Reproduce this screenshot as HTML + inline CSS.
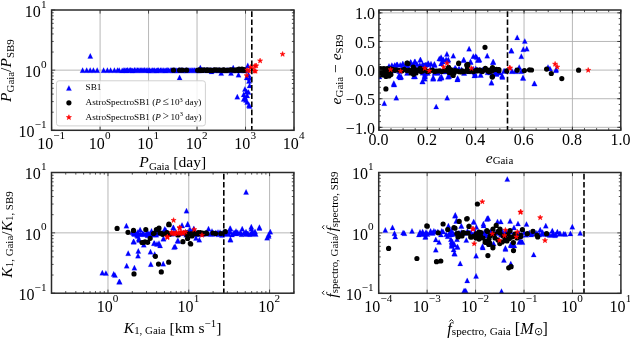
<!DOCTYPE html>
<html><head><meta charset="utf-8"><style>
html,body{margin:0;padding:0;background:#fff;overflow:hidden;}
svg{display:block;}
text{font-family:"Liberation Serif",serif;fill:#000;}
svg{will-change:transform;}
</style></head><body>
<svg width="630" height="341" viewBox="0 0 630 341">
<clipPath id="c1"><rect x="51.6" y="10.0" width="242.40" height="120.30"/></clipPath>
<path d="M100.08 10.00V130.30M148.56 10.00V130.30M197.04 10.00V130.30M245.52 10.00V130.30M51.60 70.15H294.00" stroke="#b0b0b0" stroke-width="0.9" fill="none"/>
<g clip-path="url(#c1)">
<path d="M82.60 67.55L80.00 72.75L85.20 72.75ZM86.70 67.55L84.10 72.75L89.30 72.75ZM90.20 67.55L87.60 72.75L92.80 72.75ZM93.40 67.55L90.80 72.75L96.00 72.75ZM97.20 67.55L94.60 72.75L99.80 72.75ZM103.60 67.55L101.00 72.75L106.20 72.75ZM107.40 67.55L104.80 72.75L110.00 72.75ZM110.60 67.55L108.00 72.75L113.20 72.75ZM114.40 67.55L111.80 72.75L117.00 72.75ZM117.50 67.55L114.90 72.75L120.10 72.75ZM119.20 67.55L116.60 72.75L121.80 72.75ZM122.18 67.72L119.58 72.92L124.78 72.92ZM123.86 67.43L121.26 72.63L126.46 72.63ZM125.00 67.52L122.40 72.72L127.60 72.72ZM126.39 67.69L123.79 72.89L128.99 72.89ZM127.36 67.31L124.76 72.51L129.96 72.51ZM129.10 67.52L126.50 72.72L131.70 72.72ZM130.36 67.30L127.76 72.50L132.96 72.50ZM131.47 67.66L128.87 72.86L134.07 72.86ZM132.64 67.77L130.04 72.97L135.24 72.97ZM134.34 67.32L131.74 72.52L136.94 72.52ZM135.12 67.57L132.52 72.77L137.72 72.77ZM136.96 67.49L134.36 72.69L139.56 72.69ZM137.83 67.51L135.23 72.71L140.43 72.71ZM139.02 67.41L136.42 72.61L141.62 72.61ZM140.56 67.55L137.96 72.75L143.16 72.75ZM141.74 67.42L139.14 72.62L144.34 72.62ZM143.03 67.53L140.43 72.73L145.63 72.73ZM144.37 67.31L141.77 72.51L146.97 72.51ZM146.00 67.58L143.40 72.78L148.60 72.78ZM147.19 67.39L144.59 72.59L149.79 72.59ZM148.70 67.73L146.10 72.93L151.30 72.93ZM149.47 67.47L146.87 72.67L152.07 72.67ZM151.13 67.66L148.53 72.86L153.73 72.86ZM152.56 67.51L149.96 72.71L155.16 72.71ZM153.80 67.64L151.20 72.84L156.40 72.84ZM154.78 67.59L152.18 72.79L157.38 72.79ZM156.43 67.72L153.83 72.92L159.03 72.92ZM157.50 67.59L154.90 72.79L160.10 72.79ZM158.52 67.42L155.92 72.62L161.12 72.62ZM160.28 67.51L157.68 72.71L162.88 72.71ZM161.20 67.57L158.60 72.77L163.80 72.77ZM162.82 67.64L160.22 72.84L165.42 72.84ZM163.92 67.52L161.32 72.72L166.52 72.72ZM165.31 67.69L162.71 72.89L167.91 72.89ZM166.61 67.50L164.01 72.70L169.21 72.70ZM167.89 67.31L165.29 72.51L170.49 72.51ZM168.93 67.65L166.33 72.85L171.53 72.85ZM170.79 67.60L168.19 72.80L173.39 72.80ZM171.74 67.39L169.14 72.59L174.34 72.59ZM173.10 67.79L170.50 72.99L175.70 72.99ZM174.56 67.57L171.96 72.77L177.16 72.77ZM175.92 67.42L173.32 72.62L178.52 72.62ZM177.01 67.78L174.41 72.98L179.61 72.98ZM178.35 67.53L175.75 72.73L180.95 72.73ZM179.46 67.57L176.86 72.77L182.06 72.77ZM181.17 67.30L178.57 72.50L183.77 72.50ZM182.37 67.71L179.77 72.91L184.97 72.91ZM183.73 67.67L181.13 72.87L186.33 72.87ZM184.99 67.56L182.39 72.76L187.59 72.76ZM186.14 67.51L183.54 72.71L188.74 72.71ZM187.13 67.74L184.53 72.94L189.73 72.94ZM188.74 67.40L186.14 72.60L191.34 72.60ZM190.00 67.54L187.40 72.74L192.60 72.74ZM191.21 67.47L188.61 72.67L193.81 72.67ZM192.62 67.61L190.02 72.81L195.22 72.81ZM193.97 67.53L191.37 72.73L196.57 72.73ZM194.92 67.41L192.32 72.61L197.52 72.61ZM196.31 67.59L193.71 72.79L198.91 72.79ZM198.02 67.70L195.42 72.90L200.62 72.90ZM199.28 67.71L196.68 72.91L201.88 72.91ZM200.25 67.72L197.65 72.92L202.85 72.92ZM201.80 67.34L199.20 72.54L204.40 72.54ZM202.71 67.31L200.11 72.51L205.31 72.51ZM204.45 67.42L201.85 72.62L207.05 72.62ZM205.37 67.61L202.77 72.81L207.97 72.81ZM206.81 67.33L204.21 72.53L209.41 72.53ZM208.00 67.56L205.40 72.76L210.60 72.76ZM209.30 67.44L206.70 72.64L211.90 72.64ZM210.93 67.53L208.33 72.73L213.53 72.73ZM211.99 67.54L209.39 72.74L214.59 72.74ZM213.11 67.49L210.51 72.69L215.71 72.69ZM214.65 67.39L212.05 72.59L217.25 72.59ZM215.77 67.75L213.17 72.95L218.37 72.95ZM217.31 67.40L214.71 72.60L219.91 72.60ZM218.66 67.71L216.06 72.91L221.26 72.91ZM219.61 67.31L217.01 72.51L222.21 72.51ZM220.99 67.66L218.39 72.86L223.59 72.86ZM222.30 67.65L219.70 72.85L224.90 72.85ZM223.91 67.57L221.31 72.77L226.51 72.77ZM224.93 67.79L222.33 72.99L227.53 72.99ZM226.58 67.56L223.98 72.76L229.18 72.76ZM227.53 67.62L224.93 72.82L230.13 72.82ZM228.94 67.59L226.34 72.79L231.54 72.79ZM230.19 67.62L227.59 72.82L232.79 72.82ZM231.34 67.45L228.74 72.65L233.94 72.65ZM233.18 67.74L230.58 72.94L235.78 72.94ZM234.08 67.73L231.48 72.93L236.68 72.93ZM235.39 67.77L232.79 72.97L237.99 72.97ZM236.95 67.51L234.35 72.71L239.55 72.71ZM237.95 67.30L235.35 72.50L240.55 72.50ZM239.63 67.32L237.03 72.52L242.23 72.52ZM240.89 67.78L238.29 72.98L243.49 72.98ZM242.04 67.39L239.44 72.59L244.64 72.59ZM243.52 67.79L240.92 72.99L246.12 72.99ZM244.72 67.55L242.12 72.75L247.32 72.75ZM245.83 67.47L243.23 72.67L248.43 72.67ZM90.30 53.30L87.70 58.50L92.90 58.50ZM179.60 74.80L177.00 80.00L182.20 80.00ZM200.30 64.90L197.70 70.10L202.90 70.10ZM211.50 68.70L208.90 73.90L214.10 73.90ZM221.20 70.40L218.60 75.60L223.80 75.60ZM231.00 70.40L228.40 75.60L233.60 75.60ZM233.20 65.00L230.60 70.20L235.80 70.20ZM238.50 72.10L235.90 77.30L241.10 77.30ZM247.80 62.70L245.20 67.90L250.40 67.90ZM246.70 74.70L244.10 79.90L249.30 79.90ZM249.00 78.30L246.40 83.50L251.60 83.50ZM249.60 82.90L247.00 88.10L252.20 88.10ZM244.90 86.40L242.30 91.60L247.50 91.60ZM246.70 88.80L244.10 94.00L249.30 94.00ZM243.70 91.70L241.10 96.90L246.30 96.90ZM237.30 94.10L234.70 99.30L239.90 99.30ZM247.20 92.90L244.60 98.10L249.80 98.10ZM243.70 96.40L241.10 101.60L246.30 101.60ZM247.20 99.40L244.60 104.60L249.80 104.60ZM249.00 102.30L246.40 107.50L251.60 107.50ZM249.60 103.40L247.00 108.60L252.20 108.60ZM248.50 71.90L245.90 77.10L251.10 77.10ZM249.60 75.20L247.00 80.40L252.20 80.40ZM245.00 94.40L242.40 99.60L247.60 99.60ZM246.00 97.40L243.40 102.60L248.60 102.60ZM248.50 89.40L245.90 94.60L251.10 94.60Z" fill="#0000ff" stroke="#0000ff" stroke-width="0.2" stroke-linejoin="miter"/>
<path d="M170.90 70.15a2.6 2.6 0 1 0 5.20 0a2.6 2.6 0 1 0 -5.20 0ZM177.00 70.15a2.6 2.6 0 1 0 5.20 0a2.6 2.6 0 1 0 -5.20 0ZM179.70 70.15a2.6 2.6 0 1 0 5.20 0a2.6 2.6 0 1 0 -5.20 0ZM184.00 70.15a2.6 2.6 0 1 0 5.20 0a2.6 2.6 0 1 0 -5.20 0ZM195.02 70.29a2.6 2.6 0 1 0 5.20 0a2.6 2.6 0 1 0 -5.20 0ZM196.36 69.91a2.6 2.6 0 1 0 5.20 0a2.6 2.6 0 1 0 -5.20 0ZM197.36 70.28a2.6 2.6 0 1 0 5.20 0a2.6 2.6 0 1 0 -5.20 0ZM198.68 70.15a2.6 2.6 0 1 0 5.20 0a2.6 2.6 0 1 0 -5.20 0ZM199.90 70.45a2.6 2.6 0 1 0 5.20 0a2.6 2.6 0 1 0 -5.20 0ZM201.44 69.76a2.6 2.6 0 1 0 5.20 0a2.6 2.6 0 1 0 -5.20 0ZM202.22 70.01a2.6 2.6 0 1 0 5.20 0a2.6 2.6 0 1 0 -5.20 0ZM203.89 70.38a2.6 2.6 0 1 0 5.20 0a2.6 2.6 0 1 0 -5.20 0ZM204.70 69.92a2.6 2.6 0 1 0 5.20 0a2.6 2.6 0 1 0 -5.20 0ZM206.10 70.42a2.6 2.6 0 1 0 5.20 0a2.6 2.6 0 1 0 -5.20 0ZM207.46 70.03a2.6 2.6 0 1 0 5.20 0a2.6 2.6 0 1 0 -5.20 0ZM208.63 70.30a2.6 2.6 0 1 0 5.20 0a2.6 2.6 0 1 0 -5.20 0ZM209.59 70.54a2.6 2.6 0 1 0 5.20 0a2.6 2.6 0 1 0 -5.20 0ZM210.64 70.33a2.6 2.6 0 1 0 5.20 0a2.6 2.6 0 1 0 -5.20 0ZM211.75 69.89a2.6 2.6 0 1 0 5.20 0a2.6 2.6 0 1 0 -5.20 0ZM213.45 69.92a2.6 2.6 0 1 0 5.20 0a2.6 2.6 0 1 0 -5.20 0ZM214.56 70.23a2.6 2.6 0 1 0 5.20 0a2.6 2.6 0 1 0 -5.20 0ZM215.80 70.04a2.6 2.6 0 1 0 5.20 0a2.6 2.6 0 1 0 -5.20 0ZM216.70 69.98a2.6 2.6 0 1 0 5.20 0a2.6 2.6 0 1 0 -5.20 0ZM218.22 70.23a2.6 2.6 0 1 0 5.20 0a2.6 2.6 0 1 0 -5.20 0ZM219.47 70.46a2.6 2.6 0 1 0 5.20 0a2.6 2.6 0 1 0 -5.20 0ZM220.18 70.19a2.6 2.6 0 1 0 5.20 0a2.6 2.6 0 1 0 -5.20 0ZM221.36 69.78a2.6 2.6 0 1 0 5.20 0a2.6 2.6 0 1 0 -5.20 0ZM222.54 70.44a2.6 2.6 0 1 0 5.20 0a2.6 2.6 0 1 0 -5.20 0ZM224.17 70.41a2.6 2.6 0 1 0 5.20 0a2.6 2.6 0 1 0 -5.20 0ZM225.10 70.24a2.6 2.6 0 1 0 5.20 0a2.6 2.6 0 1 0 -5.20 0ZM226.57 70.05a2.6 2.6 0 1 0 5.20 0a2.6 2.6 0 1 0 -5.20 0ZM227.64 69.93a2.6 2.6 0 1 0 5.20 0a2.6 2.6 0 1 0 -5.20 0ZM228.55 69.96a2.6 2.6 0 1 0 5.20 0a2.6 2.6 0 1 0 -5.20 0ZM230.23 70.20a2.6 2.6 0 1 0 5.20 0a2.6 2.6 0 1 0 -5.20 0ZM231.46 70.12a2.6 2.6 0 1 0 5.20 0a2.6 2.6 0 1 0 -5.20 0ZM232.27 70.38a2.6 2.6 0 1 0 5.20 0a2.6 2.6 0 1 0 -5.20 0ZM233.80 69.76a2.6 2.6 0 1 0 5.20 0a2.6 2.6 0 1 0 -5.20 0ZM234.90 69.82a2.6 2.6 0 1 0 5.20 0a2.6 2.6 0 1 0 -5.20 0ZM235.77 70.46a2.6 2.6 0 1 0 5.20 0a2.6 2.6 0 1 0 -5.20 0ZM236.92 69.94a2.6 2.6 0 1 0 5.20 0a2.6 2.6 0 1 0 -5.20 0ZM238.69 70.09a2.6 2.6 0 1 0 5.20 0a2.6 2.6 0 1 0 -5.20 0ZM239.37 69.88a2.6 2.6 0 1 0 5.20 0a2.6 2.6 0 1 0 -5.20 0ZM240.64 70.35a2.6 2.6 0 1 0 5.20 0a2.6 2.6 0 1 0 -5.20 0ZM241.76 70.48a2.6 2.6 0 1 0 5.20 0a2.6 2.6 0 1 0 -5.20 0ZM236.40 69.00a2.6 2.6 0 1 0 5.20 0a2.6 2.6 0 1 0 -5.20 0ZM239.40 69.20a2.6 2.6 0 1 0 5.20 0a2.6 2.6 0 1 0 -5.20 0ZM241.40 69.50a2.6 2.6 0 1 0 5.20 0a2.6 2.6 0 1 0 -5.20 0Z" fill="#000"/>
<path d="M247.30 67.35L247.89 69.18L249.82 69.18L248.26 70.31L248.86 72.14L247.30 71.01L245.74 72.14L246.34 70.31L244.78 69.18L246.71 69.18ZM250.90 64.35L251.49 66.18L253.42 66.18L251.86 67.31L252.46 69.14L250.90 68.01L249.34 69.14L249.94 67.31L248.38 66.18L250.31 66.18ZM254.40 68.35L254.99 70.18L256.92 70.18L255.36 71.31L255.96 73.14L254.40 72.01L252.84 73.14L253.44 71.31L251.88 70.18L253.81 70.18ZM255.50 68.55L256.09 70.38L258.02 70.38L256.46 71.51L257.06 73.34L255.50 72.21L253.94 73.34L254.54 71.51L252.98 70.38L254.91 70.38ZM256.20 63.05L256.79 64.88L258.72 64.88L257.16 66.01L257.76 67.84L256.20 66.71L254.64 67.84L255.24 66.01L253.68 64.88L255.61 64.88ZM260.10 58.15L260.69 59.98L262.62 59.98L261.06 61.11L261.66 62.94L260.10 61.81L258.54 62.94L259.14 61.11L257.58 59.98L259.51 59.98ZM282.60 51.55L283.19 53.38L285.12 53.38L283.56 54.51L284.16 56.34L282.60 55.21L281.04 56.34L281.64 54.51L280.08 53.38L282.01 53.38ZM246.70 72.95L247.29 74.78L249.22 74.78L247.66 75.91L248.26 77.74L246.70 76.61L245.14 77.74L245.74 75.91L244.18 74.78L246.11 74.78ZM255.00 63.25L255.59 65.08L257.52 65.08L255.96 66.21L256.56 68.04L255.00 66.91L253.44 68.04L254.04 66.21L252.48 65.08L254.41 65.08ZM249.00 68.35L249.59 70.18L251.52 70.18L249.96 71.31L250.56 73.14L249.00 72.01L247.44 73.14L248.04 71.31L246.48 70.18L248.41 70.18ZM252.00 66.35L252.59 68.18L254.52 68.18L252.96 69.31L253.56 71.14L252.00 70.01L250.44 71.14L251.04 69.31L249.48 68.18L251.41 68.18Z" fill="#ff0000" stroke="#ff0000" stroke-width="0.6" stroke-linejoin="miter"/>
</g>
<path d="M251.80 10.00V130.30" stroke="#000" stroke-width="1.6" stroke-dasharray="5.7 2.5" stroke-dashoffset="7.0" fill="none"/>
<path d="M51.60 130.30v-3.6M51.60 10.00v3.6M100.08 130.30v-3.6M100.08 10.00v3.6M148.56 130.30v-3.6M148.56 10.00v3.6M197.04 130.30v-3.6M197.04 10.00v3.6M245.52 130.30v-3.6M245.52 10.00v3.6M294.00 130.30v-3.6M294.00 10.00v3.6M51.60 130.30h3.6M294.00 130.30h-3.6M51.60 70.15h3.6M294.00 70.15h-3.6M51.60 10.00h3.6M294.00 10.00h-3.6M51.60 112.19h2.1M294.00 112.19h-2.1M51.60 101.60h2.1M294.00 101.60h-2.1M51.60 94.09h2.1M294.00 94.09h-2.1M51.60 88.26h2.1M294.00 88.26h-2.1M51.60 83.49h2.1M294.00 83.49h-2.1M51.60 79.47h2.1M294.00 79.47h-2.1M51.60 75.98h2.1M294.00 75.98h-2.1M51.60 72.90h2.1M294.00 72.90h-2.1M51.60 52.04h2.1M294.00 52.04h-2.1M51.60 41.45h2.1M294.00 41.45h-2.1M51.60 33.94h2.1M294.00 33.94h-2.1M51.60 28.11h2.1M294.00 28.11h-2.1M51.60 23.34h2.1M294.00 23.34h-2.1M51.60 19.32h2.1M294.00 19.32h-2.1M51.60 15.83h2.1M294.00 15.83h-2.1M51.60 12.75h2.1M294.00 12.75h-2.1" stroke="#222" stroke-width="0.8" fill="none"/>
<rect x="51.60" y="10.00" width="242.40" height="120.30" stroke="#2a2a2a" stroke-width="1.5" fill="none"/>
<rect x="56.5" y="80.8" width="148.9" height="45.1" rx="2.5" fill="#fff" fill-opacity="0.8" stroke="#cccccc" stroke-width="0.9"/>
<path d="M68.90 85.40L66.30 90.60L71.50 90.60Z" fill="#0000ff" stroke="#0000ff" stroke-width="0.2" stroke-linejoin="miter"/>
<path d="M66.30 102.80a2.6 2.6 0 1 0 5.20 0a2.6 2.6 0 1 0 -5.20 0Z" fill="#000"/>
<path d="M68.90 114.75L69.49 116.58L71.42 116.58L69.86 117.71L70.46 119.54L68.90 118.41L67.34 119.54L67.94 117.71L66.38 116.58L68.31 116.58Z" fill="#ff0000" stroke="#ff0000" stroke-width="0.6" stroke-linejoin="miter"/>
<text x="85.6" y="90.4" font-size="9.2">SB1</text>
<text x="85.6" y="105.1" font-size="9.2">AstroSpectroSB1 (<tspan font-style="italic">P</tspan><tspan font-size="11.5" dx="1.6">&#8804;</tspan><tspan dx="1.5">10</tspan><tspan font-size="6.44" dy="-3.6">3</tspan><tspan dy="3.6"> day)</tspan></text>
<text x="85.6" y="119.8" font-size="9.2">AstroSpectroSB1 (<tspan font-style="italic">P</tspan><tspan font-size="11.5" dx="1.6">&gt;</tspan><tspan dx="1.5">10</tspan><tspan font-size="6.44" dy="-3.6">3</tspan><tspan dy="3.6"> day)</tspan></text>
<text x="37.17" y="148.60" font-size="16.0">10</text><text x="53.32" y="139.00" font-size="11.2">&#8722;1</text>
<text x="88.81" y="148.60" font-size="16.0">10</text><text x="104.96" y="139.00" font-size="11.2">0</text>
<text x="137.28" y="148.60" font-size="16.0">10</text><text x="153.44" y="139.00" font-size="11.2">1</text>
<text x="185.76" y="148.60" font-size="16.0">10</text><text x="201.91" y="139.00" font-size="11.2">2</text>
<text x="234.25" y="148.60" font-size="16.0">10</text><text x="250.40" y="139.00" font-size="11.2">3</text>
<text x="282.73" y="148.60" font-size="16.0">10</text><text x="298.88" y="139.00" font-size="11.2">4</text>
<text x="24.85" y="16.90" font-size="16.0">10</text><text x="41.00" y="7.50" font-size="11.2">1</text>
<text x="24.85" y="77.05" font-size="16.0">10</text><text x="41.00" y="67.65" font-size="11.2">0</text>
<text x="18.53" y="137.20" font-size="16.0">10</text><text x="34.68" y="127.80" font-size="11.2">&#8722;1</text>
<text x="172.8" y="167.2" font-size="15.6" text-anchor="middle"><tspan font-style="italic">P</tspan><tspan font-size="10.9" dy="2.3">Gaia</tspan><tspan dy="-2.3"> [day]</tspan></text>
<text x="11.5" y="70.6" font-size="15.6" text-anchor="middle" transform="rotate(-90 11.5 70.6)"><tspan font-style="italic">P</tspan><tspan font-size="10.9" dy="2.3">Gaia</tspan><tspan dy="-2.3">/</tspan><tspan font-style="italic">P</tspan><tspan font-size="10.9" dy="2.3">SB9</tspan></text>
<clipPath id="c2"><rect x="378.9" y="10.0" width="241.90" height="120.20"/></clipPath>
<path d="M427.28 10.00V130.20M475.66 10.00V130.20M524.04 10.00V130.20M572.42 10.00V130.20M378.90 127.34H620.80M378.90 98.72H620.80M378.90 70.10H620.80M378.90 41.48H620.80M378.90 12.86H620.80" stroke="#b0b0b0" stroke-width="0.9" fill="none"/>
<g clip-path="url(#c2)">
<path d="M381.00 67.29L378.40 72.49L383.60 72.49ZM383.60 70.25L381.00 75.45L386.20 75.45ZM386.20 69.95L383.60 75.15L388.80 75.15ZM388.80 66.87L386.20 72.07L391.40 72.07ZM391.40 66.67L388.80 71.87L394.00 71.87ZM394.00 67.79L391.40 72.99L396.60 72.99ZM396.60 65.90L394.00 71.10L399.20 71.10ZM399.20 68.66L396.60 73.86L401.80 73.86ZM401.80 65.60L399.20 70.80L404.40 70.80ZM404.40 65.45L401.80 70.65L407.00 70.65ZM407.00 70.31L404.40 75.51L409.60 75.51ZM409.60 66.88L407.00 72.08L412.20 72.08ZM412.20 68.38L409.60 73.58L414.80 73.58ZM414.80 67.65L412.20 72.85L417.40 72.85ZM417.40 66.97L414.80 72.17L420.00 72.17ZM420.00 65.71L417.40 70.91L422.60 70.91ZM422.60 69.97L420.00 75.17L425.20 75.17ZM425.20 70.25L422.60 75.45L427.80 75.45ZM427.80 70.25L425.20 75.45L430.40 75.45ZM430.40 65.96L427.80 71.16L433.00 71.16ZM433.00 66.48L430.40 71.68L435.60 71.68ZM435.60 68.49L433.00 73.69L438.20 73.69ZM438.20 70.30L435.60 75.50L440.80 75.50ZM440.80 68.11L438.20 73.31L443.40 73.31ZM443.40 68.84L440.80 74.04L446.00 74.04ZM446.00 68.71L443.40 73.91L448.60 73.91ZM448.60 66.70L446.00 71.90L451.20 71.90ZM451.20 68.11L448.60 73.31L453.80 73.31ZM453.80 66.94L451.20 72.14L456.40 72.14ZM456.40 66.63L453.80 71.83L459.00 71.83ZM459.00 65.81L456.40 71.01L461.60 71.01ZM461.60 66.80L459.00 72.00L464.20 72.00ZM464.20 70.32L461.60 75.52L466.80 75.52ZM466.80 67.64L464.20 72.84L469.40 72.84ZM469.40 68.66L466.80 73.86L472.00 73.86ZM472.00 68.62L469.40 73.82L474.60 73.82ZM474.60 70.10L472.00 75.30L477.20 75.30ZM477.20 67.35L474.60 72.55L479.80 72.55ZM479.80 66.93L477.20 72.13L482.40 72.13ZM482.40 67.04L479.80 72.24L485.00 72.24ZM485.00 66.98L482.40 72.18L487.60 72.18ZM487.60 69.64L485.00 74.84L490.20 74.84ZM490.20 69.87L487.60 75.07L492.80 75.07ZM492.80 66.91L490.20 72.11L495.40 72.11ZM495.40 67.07L492.80 72.27L498.00 72.27ZM498.00 68.12L495.40 73.32L500.60 73.32ZM389.00 63.36L386.40 68.56L391.60 68.56ZM391.80 63.25L389.20 68.45L394.40 68.45ZM394.60 62.41L392.00 67.61L397.20 67.61ZM397.40 61.82L394.80 67.02L400.00 67.02ZM400.20 62.13L397.60 67.33L402.80 67.33ZM403.00 61.64L400.40 66.84L405.60 66.84ZM405.80 62.46L403.20 67.66L408.40 67.66ZM408.60 61.36L406.00 66.56L411.20 66.56ZM411.40 61.23L408.80 66.43L414.00 66.43ZM414.20 62.21L411.60 67.41L416.80 67.41ZM417.00 61.38L414.40 66.58L419.60 66.58ZM419.80 62.24L417.20 67.44L422.40 67.44ZM422.60 61.51L420.00 66.71L425.20 66.71ZM425.40 62.11L422.80 67.31L428.00 67.31ZM428.20 60.55L425.60 65.75L430.80 65.75ZM431.00 61.10L428.40 66.30L433.60 66.30ZM391.90 62.50L389.30 67.70L394.50 67.70ZM396.40 61.90L393.80 67.10L399.00 67.10ZM402.80 60.90L400.20 66.10L405.40 66.10ZM410.60 59.30L408.00 64.50L413.20 64.50ZM415.10 58.90L412.50 64.10L417.70 64.10ZM420.30 57.00L417.70 62.20L422.90 62.20ZM424.10 62.50L421.50 67.70L426.70 67.70ZM426.70 61.90L424.10 67.10L429.30 67.10ZM399.00 72.80L396.40 78.00L401.60 78.00ZM400.30 74.80L397.70 80.00L402.90 80.00ZM415.10 73.80L412.50 79.00L417.70 79.00ZM424.80 72.20L422.20 77.40L427.40 77.40ZM424.80 76.00L422.20 81.20L427.40 81.20ZM434.50 61.90L431.90 67.10L437.10 67.10ZM428.60 61.20L426.00 66.40L431.20 66.40ZM440.90 56.00L438.30 61.20L443.50 61.20ZM446.10 56.70L443.50 61.90L448.70 61.90ZM448.00 58.00L445.40 63.20L450.60 63.20ZM455.10 65.10L452.50 70.30L457.70 70.30ZM463.50 57.30L460.90 62.50L466.10 62.50ZM433.20 74.80L430.60 80.00L435.80 80.00ZM441.50 74.80L438.90 80.00L444.10 80.00ZM448.00 74.10L445.40 79.30L450.60 79.30ZM457.70 75.40L455.10 80.60L460.30 80.60ZM434.50 70.20L431.90 75.40L437.10 75.40ZM464.10 70.20L461.50 75.40L466.70 75.40ZM470.50 59.30L467.90 64.50L473.10 64.50ZM478.30 57.30L475.70 62.50L480.90 62.50ZM493.10 59.30L490.50 64.50L495.70 64.50ZM474.40 72.80L471.80 78.00L477.00 78.00ZM480.80 72.20L478.20 77.40L483.40 77.40ZM496.30 70.20L493.70 75.40L498.90 75.40ZM502.10 72.80L499.50 78.00L504.70 78.00ZM504.70 68.30L502.10 73.50L507.30 73.50ZM475.70 65.70L473.10 70.90L478.30 70.90ZM402.90 61.20L400.30 66.40L405.50 66.40ZM411.10 60.00L408.50 65.20L413.70 65.20ZM414.70 58.80L412.10 64.00L417.30 64.00ZM420.50 57.10L417.90 62.30L423.10 62.30ZM428.20 61.20L425.60 66.40L430.80 66.40ZM434.60 62.40L432.00 67.60L437.20 67.60ZM439.30 55.90L436.70 61.10L441.90 61.10ZM425.20 70.60L422.60 75.80L427.80 75.80ZM424.60 73.50L422.00 78.70L427.20 78.70ZM422.30 78.80L419.70 84.00L424.90 84.00ZM433.40 75.80L430.80 81.00L436.00 81.00ZM401.20 74.10L398.60 79.30L403.80 79.30ZM414.10 73.50L411.50 78.70L416.70 78.70ZM408.20 64.70L405.60 69.90L410.80 69.90ZM469.10 46.10L466.50 51.30L471.70 51.30ZM446.90 51.30L444.30 56.50L449.50 56.50ZM453.30 53.00L450.70 58.20L455.90 58.20ZM441.10 54.60L438.50 59.80L443.70 59.80ZM443.30 56.80L440.70 62.00L445.90 62.00ZM448.30 56.80L445.70 62.00L450.90 62.00ZM463.90 57.40L461.30 62.60L466.50 62.60ZM473.30 53.50L470.70 58.70L475.90 58.70ZM475.60 53.50L473.00 58.70L478.20 58.70ZM477.80 57.40L475.20 62.60L480.40 62.60ZM479.40 56.80L476.80 62.00L482.00 62.00ZM487.20 53.00L484.60 58.20L489.80 58.20ZM493.30 59.10L490.70 64.30L495.90 64.30ZM470.60 59.10L468.00 64.30L473.20 64.30ZM434.40 61.30L431.80 66.50L437.00 66.50ZM441.10 60.70L438.50 65.90L443.70 65.90ZM442.70 58.80L440.10 64.00L445.30 64.00ZM463.80 57.10L461.20 62.30L466.40 62.30ZM470.30 59.40L467.70 64.60L472.90 64.60ZM441.50 74.10L438.90 79.30L444.10 79.30ZM449.10 73.50L446.50 78.70L451.70 78.70ZM457.40 76.40L454.80 81.60L460.00 81.60ZM475.00 72.30L472.40 77.50L477.60 77.50ZM455.60 65.90L453.00 71.10L458.20 71.10ZM473.20 65.90L470.60 71.10L475.80 71.10ZM476.70 54.40L474.10 59.60L479.30 59.60ZM478.90 57.30L476.30 62.50L481.50 62.50ZM492.90 59.50L490.30 64.70L495.50 64.70ZM511.20 47.80L508.60 53.00L513.80 53.00ZM495.10 69.80L492.50 75.00L497.70 75.00ZM499.50 69.80L496.90 75.00L502.10 75.00ZM502.40 74.20L499.80 79.40L505.00 79.40ZM491.40 80.10L488.80 85.30L494.00 85.30ZM503.90 68.30L501.30 73.50L506.50 73.50ZM511.90 68.30L509.30 73.50L514.50 73.50ZM515.60 67.60L513.00 72.80L518.20 72.80ZM496.50 71.30L493.90 76.50L499.10 76.50ZM517.20 34.70L514.60 39.90L519.80 39.90ZM524.80 38.40L522.20 43.60L527.40 43.60ZM523.30 46.60L520.70 51.80L525.90 51.80ZM526.80 46.00L524.20 51.20L529.40 51.20ZM511.60 48.10L509.00 53.30L514.20 53.30ZM521.30 53.60L518.70 58.80L523.90 58.80ZM519.20 64.50L516.60 69.70L521.80 69.70ZM523.30 75.40L520.70 80.60L525.90 80.60ZM534.60 80.90L532.00 86.10L537.20 86.10ZM548.00 64.50L545.40 69.70L550.60 69.70ZM556.20 66.50L553.60 71.70L558.80 71.70ZM512.00 68.60L509.40 73.80L514.60 73.80ZM516.20 68.60L513.60 73.80L518.80 73.80ZM521.30 68.60L518.70 73.80L523.90 73.80ZM555.90 67.60L553.30 72.80L558.50 72.80ZM550.00 65.90L547.40 71.10L552.60 71.10ZM393.80 81.90L391.20 87.10L396.40 87.10ZM396.30 95.10L393.70 100.30L398.90 100.30ZM384.30 100.50L381.70 105.70L386.90 105.70ZM436.20 103.90L433.60 109.10L438.80 109.10ZM422.70 78.90L420.10 84.10L425.30 84.10ZM433.00 76.00L430.40 81.20L435.60 81.20ZM400.00 73.80L397.40 79.00L402.60 79.00ZM424.90 73.80L422.30 79.00L427.50 79.00ZM413.90 73.80L411.30 79.00L416.50 79.00ZM439.60 76.00L437.00 81.20L442.20 81.20ZM440.90 75.00L438.30 80.20L443.50 80.20ZM448.30 73.50L445.70 78.70L450.90 78.70ZM457.50 76.70L454.90 81.90L460.10 81.90ZM447.20 95.10L444.60 100.30L449.80 100.30ZM491.50 79.70L488.90 84.90L494.10 84.90ZM475.40 72.30L472.80 77.50L478.00 77.50ZM480.50 72.30L477.90 77.50L483.10 77.50ZM496.70 70.90L494.10 76.10L499.30 76.10ZM502.30 73.50L499.70 78.70L504.90 78.70ZM522.90 75.00L520.30 80.20L525.50 80.20ZM534.30 80.70L531.70 85.90L536.90 85.90ZM379.50 73.90L376.90 79.10L382.10 79.10ZM394.30 81.60L391.70 86.80L396.90 86.80ZM399.10 73.50L396.50 78.70L401.70 78.70ZM393.80 80.50L391.20 85.70L396.40 85.70Z" fill="#0000ff" stroke="#0000ff" stroke-width="0.2" stroke-linejoin="miter"/>
<path d="M377.64 68.58a2.6 2.6 0 1 0 5.20 0a2.6 2.6 0 1 0 -5.20 0ZM377.76 71.67a2.6 2.6 0 1 0 5.20 0a2.6 2.6 0 1 0 -5.20 0ZM377.62 75.08a2.6 2.6 0 1 0 5.20 0a2.6 2.6 0 1 0 -5.20 0ZM379.46 68.82a2.6 2.6 0 1 0 5.20 0a2.6 2.6 0 1 0 -5.20 0ZM378.89 72.01a2.6 2.6 0 1 0 5.20 0a2.6 2.6 0 1 0 -5.20 0ZM379.54 74.39a2.6 2.6 0 1 0 5.20 0a2.6 2.6 0 1 0 -5.20 0ZM381.32 68.64a2.6 2.6 0 1 0 5.20 0a2.6 2.6 0 1 0 -5.20 0ZM381.33 71.53a2.6 2.6 0 1 0 5.20 0a2.6 2.6 0 1 0 -5.20 0ZM380.85 75.00a2.6 2.6 0 1 0 5.20 0a2.6 2.6 0 1 0 -5.20 0ZM383.04 69.41a2.6 2.6 0 1 0 5.20 0a2.6 2.6 0 1 0 -5.20 0ZM383.07 72.25a2.6 2.6 0 1 0 5.20 0a2.6 2.6 0 1 0 -5.20 0ZM382.95 74.28a2.6 2.6 0 1 0 5.20 0a2.6 2.6 0 1 0 -5.20 0ZM384.55 68.66a2.6 2.6 0 1 0 5.20 0a2.6 2.6 0 1 0 -5.20 0ZM384.77 72.17a2.6 2.6 0 1 0 5.20 0a2.6 2.6 0 1 0 -5.20 0ZM384.40 74.16a2.6 2.6 0 1 0 5.20 0a2.6 2.6 0 1 0 -5.20 0ZM386.77 69.31a2.6 2.6 0 1 0 5.20 0a2.6 2.6 0 1 0 -5.20 0ZM386.44 72.04a2.6 2.6 0 1 0 5.20 0a2.6 2.6 0 1 0 -5.20 0ZM386.68 74.55a2.6 2.6 0 1 0 5.20 0a2.6 2.6 0 1 0 -5.20 0ZM388.12 68.84a2.6 2.6 0 1 0 5.20 0a2.6 2.6 0 1 0 -5.20 0ZM388.01 71.52a2.6 2.6 0 1 0 5.20 0a2.6 2.6 0 1 0 -5.20 0ZM388.32 74.52a2.6 2.6 0 1 0 5.20 0a2.6 2.6 0 1 0 -5.20 0ZM390.47 69.55a2.6 2.6 0 1 0 5.20 0a2.6 2.6 0 1 0 -5.20 0ZM392.55 69.73a2.6 2.6 0 1 0 5.20 0a2.6 2.6 0 1 0 -5.20 0ZM394.63 70.02a2.6 2.6 0 1 0 5.20 0a2.6 2.6 0 1 0 -5.20 0ZM397.63 70.35a2.6 2.6 0 1 0 5.20 0a2.6 2.6 0 1 0 -5.20 0ZM399.50 70.87a2.6 2.6 0 1 0 5.20 0a2.6 2.6 0 1 0 -5.20 0ZM401.63 69.42a2.6 2.6 0 1 0 5.20 0a2.6 2.6 0 1 0 -5.20 0ZM404.23 70.60a2.6 2.6 0 1 0 5.20 0a2.6 2.6 0 1 0 -5.20 0ZM406.65 70.45a2.6 2.6 0 1 0 5.20 0a2.6 2.6 0 1 0 -5.20 0ZM408.99 71.16a2.6 2.6 0 1 0 5.20 0a2.6 2.6 0 1 0 -5.20 0ZM410.84 70.59a2.6 2.6 0 1 0 5.20 0a2.6 2.6 0 1 0 -5.20 0ZM413.38 69.94a2.6 2.6 0 1 0 5.20 0a2.6 2.6 0 1 0 -5.20 0ZM415.61 70.74a2.6 2.6 0 1 0 5.20 0a2.6 2.6 0 1 0 -5.20 0ZM418.41 71.60a2.6 2.6 0 1 0 5.20 0a2.6 2.6 0 1 0 -5.20 0ZM420.08 70.95a2.6 2.6 0 1 0 5.20 0a2.6 2.6 0 1 0 -5.20 0ZM422.15 69.57a2.6 2.6 0 1 0 5.20 0a2.6 2.6 0 1 0 -5.20 0ZM424.91 71.51a2.6 2.6 0 1 0 5.20 0a2.6 2.6 0 1 0 -5.20 0ZM426.86 71.24a2.6 2.6 0 1 0 5.20 0a2.6 2.6 0 1 0 -5.20 0ZM429.88 70.15a2.6 2.6 0 1 0 5.20 0a2.6 2.6 0 1 0 -5.20 0ZM431.99 71.44a2.6 2.6 0 1 0 5.20 0a2.6 2.6 0 1 0 -5.20 0ZM433.97 71.08a2.6 2.6 0 1 0 5.20 0a2.6 2.6 0 1 0 -5.20 0ZM436.64 70.83a2.6 2.6 0 1 0 5.20 0a2.6 2.6 0 1 0 -5.20 0ZM439.06 71.55a2.6 2.6 0 1 0 5.20 0a2.6 2.6 0 1 0 -5.20 0ZM441.46 70.77a2.6 2.6 0 1 0 5.20 0a2.6 2.6 0 1 0 -5.20 0ZM442.98 70.00a2.6 2.6 0 1 0 5.20 0a2.6 2.6 0 1 0 -5.20 0ZM445.32 70.77a2.6 2.6 0 1 0 5.20 0a2.6 2.6 0 1 0 -5.20 0ZM448.16 69.53a2.6 2.6 0 1 0 5.20 0a2.6 2.6 0 1 0 -5.20 0ZM450.38 71.12a2.6 2.6 0 1 0 5.20 0a2.6 2.6 0 1 0 -5.20 0ZM452.35 70.64a2.6 2.6 0 1 0 5.20 0a2.6 2.6 0 1 0 -5.20 0ZM454.46 71.15a2.6 2.6 0 1 0 5.20 0a2.6 2.6 0 1 0 -5.20 0ZM456.64 71.75a2.6 2.6 0 1 0 5.20 0a2.6 2.6 0 1 0 -5.20 0ZM459.71 70.91a2.6 2.6 0 1 0 5.20 0a2.6 2.6 0 1 0 -5.20 0ZM461.47 71.59a2.6 2.6 0 1 0 5.20 0a2.6 2.6 0 1 0 -5.20 0ZM464.46 69.73a2.6 2.6 0 1 0 5.20 0a2.6 2.6 0 1 0 -5.20 0ZM466.58 71.42a2.6 2.6 0 1 0 5.20 0a2.6 2.6 0 1 0 -5.20 0ZM468.76 71.08a2.6 2.6 0 1 0 5.20 0a2.6 2.6 0 1 0 -5.20 0ZM470.85 71.62a2.6 2.6 0 1 0 5.20 0a2.6 2.6 0 1 0 -5.20 0ZM473.67 70.32a2.6 2.6 0 1 0 5.20 0a2.6 2.6 0 1 0 -5.20 0ZM475.80 70.44a2.6 2.6 0 1 0 5.20 0a2.6 2.6 0 1 0 -5.20 0ZM477.46 70.18a2.6 2.6 0 1 0 5.20 0a2.6 2.6 0 1 0 -5.20 0ZM479.73 71.58a2.6 2.6 0 1 0 5.20 0a2.6 2.6 0 1 0 -5.20 0ZM482.86 69.69a2.6 2.6 0 1 0 5.20 0a2.6 2.6 0 1 0 -5.20 0ZM484.80 70.38a2.6 2.6 0 1 0 5.20 0a2.6 2.6 0 1 0 -5.20 0ZM486.62 70.11a2.6 2.6 0 1 0 5.20 0a2.6 2.6 0 1 0 -5.20 0ZM489.05 71.20a2.6 2.6 0 1 0 5.20 0a2.6 2.6 0 1 0 -5.20 0ZM491.10 69.86a2.6 2.6 0 1 0 5.20 0a2.6 2.6 0 1 0 -5.20 0ZM493.84 69.45a2.6 2.6 0 1 0 5.20 0a2.6 2.6 0 1 0 -5.20 0ZM496.33 70.85a2.6 2.6 0 1 0 5.20 0a2.6 2.6 0 1 0 -5.20 0ZM392.50 70.30a2.6 2.6 0 1 0 5.20 0a2.6 2.6 0 1 0 -5.20 0ZM404.80 63.20a2.6 2.6 0 1 0 5.20 0a2.6 2.6 0 1 0 -5.20 0ZM410.60 67.00a2.6 2.6 0 1 0 5.20 0a2.6 2.6 0 1 0 -5.20 0ZM410.60 73.50a2.6 2.6 0 1 0 5.20 0a2.6 2.6 0 1 0 -5.20 0ZM417.70 68.30a2.6 2.6 0 1 0 5.20 0a2.6 2.6 0 1 0 -5.20 0ZM456.00 63.50a2.6 2.6 0 1 0 5.20 0a2.6 2.6 0 1 0 -5.20 0ZM450.60 75.40a2.6 2.6 0 1 0 5.20 0a2.6 2.6 0 1 0 -5.20 0ZM464.10 65.10a2.6 2.6 0 1 0 5.20 0a2.6 2.6 0 1 0 -5.20 0ZM464.70 66.40a2.6 2.6 0 1 0 5.20 0a2.6 2.6 0 1 0 -5.20 0ZM464.70 70.90a2.6 2.6 0 1 0 5.20 0a2.6 2.6 0 1 0 -5.20 0ZM474.40 70.90a2.6 2.6 0 1 0 5.20 0a2.6 2.6 0 1 0 -5.20 0ZM478.90 70.90a2.6 2.6 0 1 0 5.20 0a2.6 2.6 0 1 0 -5.20 0ZM482.80 68.30a2.6 2.6 0 1 0 5.20 0a2.6 2.6 0 1 0 -5.20 0ZM486.00 71.50a2.6 2.6 0 1 0 5.20 0a2.6 2.6 0 1 0 -5.20 0ZM489.90 67.70a2.6 2.6 0 1 0 5.20 0a2.6 2.6 0 1 0 -5.20 0ZM489.90 76.70a2.6 2.6 0 1 0 5.20 0a2.6 2.6 0 1 0 -5.20 0ZM496.30 69.60a2.6 2.6 0 1 0 5.20 0a2.6 2.6 0 1 0 -5.20 0ZM383.40 76.50a2.6 2.6 0 1 0 5.20 0a2.6 2.6 0 1 0 -5.20 0ZM386.40 76.00a2.6 2.6 0 1 0 5.20 0a2.6 2.6 0 1 0 -5.20 0ZM410.90 70.20a2.6 2.6 0 1 0 5.20 0a2.6 2.6 0 1 0 -5.20 0ZM410.90 74.30a2.6 2.6 0 1 0 5.20 0a2.6 2.6 0 1 0 -5.20 0ZM408.40 73.00a2.6 2.6 0 1 0 5.20 0a2.6 2.6 0 1 0 -5.20 0ZM413.40 73.00a2.6 2.6 0 1 0 5.20 0a2.6 2.6 0 1 0 -5.20 0ZM404.40 63.20a2.6 2.6 0 1 0 5.20 0a2.6 2.6 0 1 0 -5.20 0ZM405.40 63.50a2.6 2.6 0 1 0 5.20 0a2.6 2.6 0 1 0 -5.20 0ZM383.30 88.90a2.6 2.6 0 1 0 5.20 0a2.6 2.6 0 1 0 -5.20 0ZM482.40 47.30a2.6 2.6 0 1 0 5.20 0a2.6 2.6 0 1 0 -5.20 0ZM456.10 63.20a2.6 2.6 0 1 0 5.20 0a2.6 2.6 0 1 0 -5.20 0ZM465.20 64.40a2.6 2.6 0 1 0 5.20 0a2.6 2.6 0 1 0 -5.20 0ZM465.30 65.50a2.6 2.6 0 1 0 5.20 0a2.6 2.6 0 1 0 -5.20 0ZM450.10 74.90a2.6 2.6 0 1 0 5.20 0a2.6 2.6 0 1 0 -5.20 0ZM465.30 71.40a2.6 2.6 0 1 0 5.20 0a2.6 2.6 0 1 0 -5.20 0ZM446.00 67.30a2.6 2.6 0 1 0 5.20 0a2.6 2.6 0 1 0 -5.20 0ZM489.50 76.80a2.6 2.6 0 1 0 5.20 0a2.6 2.6 0 1 0 -5.20 0ZM489.70 77.10a2.6 2.6 0 1 0 5.20 0a2.6 2.6 0 1 0 -5.20 0ZM474.90 70.20a2.6 2.6 0 1 0 5.20 0a2.6 2.6 0 1 0 -5.20 0ZM477.80 70.90a2.6 2.6 0 1 0 5.20 0a2.6 2.6 0 1 0 -5.20 0ZM482.90 69.50a2.6 2.6 0 1 0 5.20 0a2.6 2.6 0 1 0 -5.20 0ZM486.60 71.70a2.6 2.6 0 1 0 5.20 0a2.6 2.6 0 1 0 -5.20 0ZM489.50 69.50a2.6 2.6 0 1 0 5.20 0a2.6 2.6 0 1 0 -5.20 0ZM496.10 69.50a2.6 2.6 0 1 0 5.20 0a2.6 2.6 0 1 0 -5.20 0ZM504.20 70.90a2.6 2.6 0 1 0 5.20 0a2.6 2.6 0 1 0 -5.20 0ZM458.40 72.00a2.6 2.6 0 1 0 5.20 0a2.6 2.6 0 1 0 -5.20 0ZM446.40 72.50a2.6 2.6 0 1 0 5.20 0a2.6 2.6 0 1 0 -5.20 0ZM451.40 73.00a2.6 2.6 0 1 0 5.20 0a2.6 2.6 0 1 0 -5.20 0ZM514.60 70.20a2.6 2.6 0 1 0 5.20 0a2.6 2.6 0 1 0 -5.20 0ZM521.80 70.60a2.6 2.6 0 1 0 5.20 0a2.6 2.6 0 1 0 -5.20 0ZM526.90 69.80a2.6 2.6 0 1 0 5.20 0a2.6 2.6 0 1 0 -5.20 0ZM544.00 69.10a2.6 2.6 0 1 0 5.20 0a2.6 2.6 0 1 0 -5.20 0ZM548.70 73.50a2.6 2.6 0 1 0 5.20 0a2.6 2.6 0 1 0 -5.20 0ZM559.20 78.60a2.6 2.6 0 1 0 5.20 0a2.6 2.6 0 1 0 -5.20 0ZM576.00 70.20a2.6 2.6 0 1 0 5.20 0a2.6 2.6 0 1 0 -5.20 0ZM528.90 70.00a2.6 2.6 0 1 0 5.20 0a2.6 2.6 0 1 0 -5.20 0Z" fill="#000"/>
<path d="M390.60 66.95L391.19 68.78L393.12 68.78L391.56 69.91L392.16 71.74L390.60 70.61L389.04 71.74L389.64 69.91L388.08 68.78L390.01 68.78ZM400.60 68.55L401.19 70.38L403.12 70.38L401.56 71.51L402.16 73.34L400.60 72.21L399.04 73.34L399.64 71.51L398.08 70.38L400.01 70.38ZM424.80 65.65L425.39 67.48L427.32 67.48L425.76 68.61L426.36 70.44L424.80 69.31L423.24 70.44L423.84 68.61L422.28 67.48L424.21 67.48ZM429.30 68.25L429.89 70.08L431.82 70.08L430.26 71.21L430.86 73.04L429.30 71.91L427.74 73.04L428.34 71.21L426.78 70.08L428.71 70.08ZM447.00 60.55L447.59 62.38L449.52 62.38L447.96 63.51L448.56 65.34L447.00 64.21L445.44 65.34L446.04 63.51L444.48 62.38L446.41 62.38ZM443.50 64.35L444.09 66.18L446.02 66.18L444.46 67.31L445.06 69.14L443.50 68.01L441.94 69.14L442.54 67.31L440.98 66.18L442.91 66.18ZM471.50 65.65L472.09 67.48L474.02 67.48L472.46 68.61L473.06 70.44L471.50 69.31L469.94 70.44L470.54 68.61L468.98 67.48L470.91 67.48ZM509.70 65.35L510.29 67.18L512.22 67.18L510.66 68.31L511.26 70.14L509.70 69.01L508.14 70.14L508.74 68.31L507.18 67.18L509.11 67.18ZM510.00 65.45L510.59 67.28L512.52 67.28L510.96 68.41L511.56 70.24L510.00 69.11L508.44 70.24L509.04 68.41L507.48 67.28L509.41 67.28ZM555.10 61.45L555.69 63.28L557.62 63.28L556.06 64.41L556.66 66.24L555.10 65.11L553.54 66.24L554.14 64.41L552.58 63.28L554.51 63.28ZM557.30 64.35L557.89 66.18L559.82 66.18L558.26 67.31L558.86 69.14L557.30 68.01L555.74 69.14L556.34 67.31L554.78 66.18L556.71 66.18ZM588.20 67.55L588.79 69.38L590.72 69.38L589.16 70.51L589.76 72.34L588.20 71.21L586.64 72.34L587.24 70.51L585.68 69.38L587.61 69.38Z" fill="#ff0000" stroke="#ff0000" stroke-width="0.6" stroke-linejoin="miter"/>
</g>
<path d="M507.50 10.00V130.20" stroke="#000" stroke-width="1.6" stroke-dasharray="5.7 2.5" stroke-dashoffset="7.0" fill="none"/>
<path d="M378.90 130.20v-3.6M378.90 10.00v3.6M427.28 130.20v-3.6M427.28 10.00v3.6M475.66 130.20v-3.6M475.66 10.00v3.6M524.04 130.20v-3.6M524.04 10.00v3.6M572.42 130.20v-3.6M572.42 10.00v3.6M620.80 130.20v-3.6M620.80 10.00v3.6M378.90 130.20v-2.1M378.90 10.00v2.1M391.00 130.20v-2.1M391.00 10.00v2.1M403.09 130.20v-2.1M403.09 10.00v2.1M415.19 130.20v-2.1M415.19 10.00v2.1M427.28 130.20v-2.1M427.28 10.00v2.1M439.38 130.20v-2.1M439.38 10.00v2.1M451.47 130.20v-2.1M451.47 10.00v2.1M463.56 130.20v-2.1M463.56 10.00v2.1M475.66 130.20v-2.1M475.66 10.00v2.1M487.75 130.20v-2.1M487.75 10.00v2.1M499.85 130.20v-2.1M499.85 10.00v2.1M511.94 130.20v-2.1M511.94 10.00v2.1M524.04 130.20v-2.1M524.04 10.00v2.1M536.13 130.20v-2.1M536.13 10.00v2.1M548.23 130.20v-2.1M548.23 10.00v2.1M560.32 130.20v-2.1M560.32 10.00v2.1M572.42 130.20v-2.1M572.42 10.00v2.1M584.51 130.20v-2.1M584.51 10.00v2.1M596.61 130.20v-2.1M596.61 10.00v2.1M608.70 130.20v-2.1M608.70 10.00v2.1M620.80 130.20v-2.1M620.80 10.00v2.1M378.90 127.34h3.6M620.80 127.34h-3.6M378.90 98.72h3.6M620.80 98.72h-3.6M378.90 70.10h3.6M620.80 70.10h-3.6M378.90 41.48h3.6M620.80 41.48h-3.6M378.90 12.86h3.6M620.80 12.86h-3.6M378.90 127.34h2.1M620.80 127.34h-2.1M378.90 121.61h2.1M620.80 121.61h-2.1M378.90 115.89h2.1M620.80 115.89h-2.1M378.90 110.17h2.1M620.80 110.17h-2.1M378.90 104.44h2.1M620.80 104.44h-2.1M378.90 98.72h2.1M620.80 98.72h-2.1M378.90 93.00h2.1M620.80 93.00h-2.1M378.90 87.27h2.1M620.80 87.27h-2.1M378.90 81.55h2.1M620.80 81.55h-2.1M378.90 75.82h2.1M620.80 75.82h-2.1M378.90 70.10h2.1M620.80 70.10h-2.1M378.90 64.38h2.1M620.80 64.38h-2.1M378.90 58.65h2.1M620.80 58.65h-2.1M378.90 52.93h2.1M620.80 52.93h-2.1M378.90 47.20h2.1M620.80 47.20h-2.1M378.90 41.48h2.1M620.80 41.48h-2.1M378.90 35.76h2.1M620.80 35.76h-2.1M378.90 30.03h2.1M620.80 30.03h-2.1M378.90 24.31h2.1M620.80 24.31h-2.1M378.90 18.59h2.1M620.80 18.59h-2.1M378.90 12.86h2.1M620.80 12.86h-2.1" stroke="#222" stroke-width="0.8" fill="none"/>
<rect x="378.90" y="10.00" width="241.90" height="120.20" stroke="#2a2a2a" stroke-width="1.5" fill="none"/>
<text x="378.60" y="145.00" font-size="16.0" text-anchor="middle">0.0</text>
<text x="426.98" y="145.00" font-size="16.0" text-anchor="middle">0.2</text>
<text x="475.36" y="145.00" font-size="16.0" text-anchor="middle">0.4</text>
<text x="523.74" y="145.00" font-size="16.0" text-anchor="middle">0.6</text>
<text x="572.12" y="145.00" font-size="16.0" text-anchor="middle">0.8</text>
<text x="620.50" y="145.00" font-size="16.0" text-anchor="middle">1.0</text>
<text x="374.90" y="19.06" font-size="16.0" text-anchor="end">1.0</text>
<text x="374.90" y="47.68" font-size="16.0" text-anchor="end">0.5</text>
<text x="374.90" y="76.30" font-size="16.0" text-anchor="end">0.0</text>
<text x="374.90" y="104.92" font-size="16.0" text-anchor="end">&#8722;0.5</text>
<text x="374.90" y="133.54" font-size="16.0" text-anchor="end">&#8722;1.0</text>
<text x="499.5" y="162.5" font-size="15.6" text-anchor="middle"><tspan font-style="italic">e</tspan><tspan font-size="10.9" dy="1.9">Gaia</tspan></text>
<text x="340.8" y="69.5" font-size="15.6" text-anchor="middle" transform="rotate(-90 340.8 69.5)"><tspan font-style="italic">e</tspan><tspan font-size="10.9" dy="1.9">Gaia</tspan><tspan dy="-1.9"> &#8722; </tspan><tspan font-style="italic">e</tspan><tspan font-size="10.9" dy="1.9">SB9</tspan></text>
<clipPath id="c3"><rect x="51.5" y="172.5" width="242.40" height="120.70"/></clipPath>
<path d="M107.98 172.50V293.20M188.78 172.50V293.20M269.58 172.50V293.20M51.50 232.85H293.90" stroke="#b0b0b0" stroke-width="0.9" fill="none"/>
<g clip-path="url(#c3)">
<path d="M132.34 229.67L129.74 234.87L134.94 234.87ZM133.78 230.68L131.18 235.88L136.38 235.88ZM135.77 230.81L133.17 236.01L138.37 236.01ZM137.75 231.10L135.15 236.30L140.35 236.30ZM140.29 231.48L137.69 236.68L142.89 236.68ZM142.47 230.69L139.87 235.89L145.07 235.89ZM143.99 231.62L141.39 236.82L146.59 236.82ZM146.27 230.76L143.67 235.96L148.87 235.96ZM147.88 229.90L145.28 235.10L150.48 235.10ZM149.61 231.47L147.01 236.67L152.21 236.67ZM151.62 231.29L149.02 236.49L154.22 236.49ZM154.05 231.94L151.45 237.14L156.65 237.14ZM156.26 231.97L153.66 237.17L158.86 237.17ZM157.64 230.55L155.04 235.75L160.24 235.75ZM160.07 229.98L157.47 235.18L162.67 235.18ZM162.00 230.12L159.40 235.32L164.60 235.32ZM164.03 229.05L161.43 234.25L166.63 234.25ZM165.94 230.40L163.34 235.60L168.54 235.60ZM167.80 230.25L165.20 235.45L170.40 235.45ZM170.28 231.10L167.68 236.30L172.88 236.30ZM171.99 230.99L169.39 236.19L174.59 236.19ZM173.88 229.66L171.28 234.86L176.48 234.86ZM175.50 229.88L172.90 235.08L178.10 235.08ZM178.10 231.69L175.50 236.89L180.70 236.89ZM180.33 230.58L177.73 235.78L182.93 235.78ZM182.49 230.43L179.89 235.63L185.09 235.63ZM184.33 230.28L181.73 235.48L186.93 235.48ZM186.24 232.01L183.64 237.21L188.84 237.21ZM187.81 229.56L185.21 234.76L190.41 234.76ZM190.12 230.64L187.52 235.84L192.72 235.84ZM191.86 229.06L189.26 234.26L194.46 234.26ZM193.89 230.33L191.29 235.53L196.49 235.53ZM195.91 231.63L193.31 236.83L198.51 236.83ZM198.08 231.25L195.48 236.45L200.68 236.45ZM200.40 231.30L197.80 236.50L203.00 236.50ZM201.99 231.29L199.39 236.49L204.59 236.49ZM204.14 231.00L201.54 236.20L206.74 236.20ZM206.13 230.27L203.53 235.47L208.73 235.47ZM208.13 230.95L205.53 236.15L210.73 236.15ZM210.44 231.40L207.84 236.60L213.04 236.60ZM212.35 231.35L209.75 236.55L214.95 236.55ZM214.32 230.87L211.72 236.07L216.92 236.07ZM215.85 229.84L213.25 235.04L218.45 235.04ZM218.21 231.67L215.61 236.87L220.81 236.87ZM220.04 229.51L217.44 234.71L222.64 234.71ZM222.33 230.50L219.73 235.70L224.93 235.70ZM223.97 229.19L221.37 234.39L226.57 234.39ZM226.01 231.28L223.41 236.48L228.61 236.48ZM227.92 230.12L225.32 235.32L230.52 235.32ZM230.16 229.11L227.56 234.31L232.76 234.31ZM232.01 231.89L229.41 237.09L234.61 237.09ZM234.19 230.26L231.59 235.46L236.79 235.46ZM236.19 230.86L233.59 236.06L238.79 236.06ZM237.71 229.67L235.11 234.87L240.31 234.87ZM240.39 229.86L237.79 235.06L242.99 235.06ZM241.57 231.54L238.97 236.74L244.17 236.74ZM244.02 230.15L241.42 235.35L246.62 235.35ZM246.01 231.26L243.41 236.46L248.61 236.46ZM247.67 231.01L245.07 236.21L250.27 236.21ZM250.21 231.50L247.61 236.70L252.81 236.70ZM251.77 230.88L249.17 236.08L254.37 236.08ZM253.73 230.73L251.13 235.93L256.33 235.93ZM255.67 231.42L253.07 236.62L258.27 236.62ZM126.40 223.10L123.80 228.30L129.00 228.30ZM133.80 238.90L131.20 244.10L136.40 244.10ZM137.80 229.40L135.20 234.60L140.40 234.60ZM137.80 233.40L135.20 238.60L140.40 238.60ZM140.10 226.90L137.50 232.10L142.70 232.10ZM151.50 228.20L148.90 233.40L154.10 233.40ZM164.70 226.50L162.10 231.70L167.30 231.70ZM133.50 238.80L130.90 244.00L136.10 244.00ZM138.80 236.10L136.20 241.30L141.40 241.30ZM154.60 240.50L152.00 245.70L157.20 245.70ZM159.00 240.50L156.40 245.70L161.60 245.70ZM134.40 231.30L131.80 236.50L137.00 236.50ZM137.00 232.20L134.40 237.40L139.60 237.40ZM143.20 231.30L140.60 236.50L145.80 236.50ZM147.60 232.60L145.00 237.80L150.20 237.80ZM163.40 236.10L160.80 241.30L166.00 241.30ZM102.30 270.10L99.70 275.30L104.90 275.30ZM105.90 270.40L103.30 275.60L108.50 275.60ZM113.70 271.30L111.10 276.50L116.30 276.50ZM119.10 279.10L116.50 284.30L121.70 284.30ZM133.70 239.00L131.10 244.20L136.30 244.20ZM139.10 237.40L136.50 242.60L141.70 242.60ZM128.20 250.60L125.60 255.80L130.80 255.80ZM138.30 248.30L135.70 253.50L140.90 253.50ZM138.00 253.00L135.40 258.20L140.60 258.20ZM150.50 249.10L147.90 254.30L153.10 254.30ZM154.70 251.40L152.10 256.60L157.30 256.60ZM126.70 263.10L124.10 268.30L129.30 268.30ZM134.40 265.10L131.80 270.30L137.00 270.30ZM150.80 261.50L148.20 266.70L153.40 266.70ZM163.20 261.00L160.60 266.20L165.80 266.20ZM119.70 279.10L117.10 284.30L122.30 284.30ZM115.00 272.40L112.40 277.60L117.60 277.60ZM153.90 240.50L151.30 245.70L156.50 245.70ZM157.00 241.30L154.40 246.50L159.60 246.50ZM160.10 242.80L157.50 248.00L162.70 248.00ZM143.80 242.10L141.20 247.30L146.40 247.30ZM174.10 244.40L171.50 249.60L176.70 249.60ZM186.50 208.00L183.90 213.20L189.10 213.20ZM187.60 221.90L185.00 227.10L190.20 227.10ZM173.60 225.10L171.00 230.30L176.20 230.30ZM182.10 222.70L179.50 227.90L184.70 227.90ZM175.10 243.70L172.50 248.90L177.70 248.90ZM178.20 238.30L175.60 243.50L180.80 243.50ZM193.80 225.80L191.20 231.00L196.40 231.00ZM165.80 227.40L163.20 232.60L168.40 232.60ZM164.80 226.50L162.20 231.70L167.40 231.70ZM173.20 224.70L170.60 229.90L175.80 229.90ZM182.00 222.50L179.40 227.70L184.60 227.70ZM187.70 221.20L185.10 226.40L190.30 226.40ZM163.50 235.70L160.90 240.90L166.10 240.90ZM177.60 237.90L175.00 243.10L180.20 243.10ZM189.90 226.50L187.30 231.70L192.50 231.70ZM196.00 235.30L193.40 240.50L198.60 240.50ZM208.50 226.00L205.90 231.20L211.10 231.20ZM230.50 226.00L227.90 231.20L233.10 231.20ZM230.50 237.00L227.90 242.20L233.10 242.20ZM199.30 237.00L196.70 242.20L201.90 242.20ZM246.10 189.30L243.50 194.50L248.70 194.50ZM259.50 225.30L256.90 230.50L262.10 230.50ZM251.40 226.10L248.80 231.30L254.00 231.30ZM255.00 230.10L252.40 235.30L257.60 235.30ZM270.30 229.00L267.70 234.20L272.90 234.20ZM268.70 231.80L266.10 237.00L271.30 237.00ZM267.10 235.00L264.50 240.20L269.70 240.20ZM268.70 233.40L266.10 238.60L271.30 238.60ZM212.00 228.40L209.40 233.60L214.60 233.60ZM218.00 229.40L215.40 234.60L220.60 234.60ZM222.00 232.40L219.40 237.60L224.60 237.60ZM228.00 231.40L225.40 236.60L230.60 236.60ZM234.00 229.90L231.40 235.10L236.60 235.10ZM240.00 230.40L237.40 235.60L242.60 235.60ZM248.00 230.90L245.40 236.10L250.60 236.10ZM252.00 229.40L249.40 234.60L254.60 234.60ZM230.10 225.50L227.50 230.70L232.70 230.70ZM242.20 226.10L239.60 231.30L244.80 231.30ZM251.30 224.10L248.70 229.30L253.90 229.30ZM259.40 224.50L256.80 229.70L262.00 229.70ZM255.00 228.80L252.40 234.00L257.60 234.00ZM230.40 236.60L227.80 241.80L233.00 241.80ZM236.00 228.40L233.40 233.60L238.60 233.60ZM246.00 228.90L243.40 234.10L248.60 234.10Z" fill="#0000ff" stroke="#0000ff" stroke-width="0.2" stroke-linejoin="miter"/>
<path d="M183.77 232.91a2.6 2.6 0 1 0 5.20 0a2.6 2.6 0 1 0 -5.20 0ZM185.12 234.18a2.6 2.6 0 1 0 5.20 0a2.6 2.6 0 1 0 -5.20 0ZM187.61 233.94a2.6 2.6 0 1 0 5.20 0a2.6 2.6 0 1 0 -5.20 0ZM188.93 234.05a2.6 2.6 0 1 0 5.20 0a2.6 2.6 0 1 0 -5.20 0ZM191.52 232.88a2.6 2.6 0 1 0 5.20 0a2.6 2.6 0 1 0 -5.20 0ZM193.33 233.77a2.6 2.6 0 1 0 5.20 0a2.6 2.6 0 1 0 -5.20 0ZM195.69 232.63a2.6 2.6 0 1 0 5.20 0a2.6 2.6 0 1 0 -5.20 0ZM197.53 232.58a2.6 2.6 0 1 0 5.20 0a2.6 2.6 0 1 0 -5.20 0ZM199.87 233.14a2.6 2.6 0 1 0 5.20 0a2.6 2.6 0 1 0 -5.20 0ZM201.81 233.71a2.6 2.6 0 1 0 5.20 0a2.6 2.6 0 1 0 -5.20 0ZM203.51 232.77a2.6 2.6 0 1 0 5.20 0a2.6 2.6 0 1 0 -5.20 0ZM150.90 233.50a2.6 2.6 0 1 0 5.20 0a2.6 2.6 0 1 0 -5.20 0ZM157.40 233.00a2.6 2.6 0 1 0 5.20 0a2.6 2.6 0 1 0 -5.20 0ZM160.40 234.00a2.6 2.6 0 1 0 5.20 0a2.6 2.6 0 1 0 -5.20 0ZM139.40 242.50a2.6 2.6 0 1 0 5.20 0a2.6 2.6 0 1 0 -5.20 0ZM163.40 233.50a2.6 2.6 0 1 0 5.20 0a2.6 2.6 0 1 0 -5.20 0ZM166.40 234.50a2.6 2.6 0 1 0 5.20 0a2.6 2.6 0 1 0 -5.20 0ZM114.50 228.40a2.6 2.6 0 1 0 5.20 0a2.6 2.6 0 1 0 -5.20 0ZM125.40 232.30a2.6 2.6 0 1 0 5.20 0a2.6 2.6 0 1 0 -5.20 0ZM131.00 230.50a2.6 2.6 0 1 0 5.20 0a2.6 2.6 0 1 0 -5.20 0ZM130.90 230.40a2.6 2.6 0 1 0 5.20 0a2.6 2.6 0 1 0 -5.20 0ZM143.20 229.50a2.6 2.6 0 1 0 5.20 0a2.6 2.6 0 1 0 -5.20 0ZM153.80 229.50a2.6 2.6 0 1 0 5.20 0a2.6 2.6 0 1 0 -5.20 0ZM156.40 228.20a2.6 2.6 0 1 0 5.20 0a2.6 2.6 0 1 0 -5.20 0ZM151.60 233.00a2.6 2.6 0 1 0 5.20 0a2.6 2.6 0 1 0 -5.20 0ZM147.60 238.30a2.6 2.6 0 1 0 5.20 0a2.6 2.6 0 1 0 -5.20 0ZM142.40 241.80a2.6 2.6 0 1 0 5.20 0a2.6 2.6 0 1 0 -5.20 0ZM166.10 224.70a2.6 2.6 0 1 0 5.20 0a2.6 2.6 0 1 0 -5.20 0ZM159.90 234.30a2.6 2.6 0 1 0 5.20 0a2.6 2.6 0 1 0 -5.20 0ZM164.30 232.60a2.6 2.6 0 1 0 5.20 0a2.6 2.6 0 1 0 -5.20 0ZM141.20 242.30a2.6 2.6 0 1 0 5.20 0a2.6 2.6 0 1 0 -5.20 0ZM145.10 242.30a2.6 2.6 0 1 0 5.20 0a2.6 2.6 0 1 0 -5.20 0ZM152.80 256.30a2.6 2.6 0 1 0 5.20 0a2.6 2.6 0 1 0 -5.20 0ZM155.90 264.10a2.6 2.6 0 1 0 5.20 0a2.6 2.6 0 1 0 -5.20 0ZM166.10 262.20a2.6 2.6 0 1 0 5.20 0a2.6 2.6 0 1 0 -5.20 0ZM158.70 271.90a2.6 2.6 0 1 0 5.20 0a2.6 2.6 0 1 0 -5.20 0ZM131.40 273.90a2.6 2.6 0 1 0 5.20 0a2.6 2.6 0 1 0 -5.20 0ZM166.30 224.20a2.6 2.6 0 1 0 5.20 0a2.6 2.6 0 1 0 -5.20 0ZM180.30 241.70a2.6 2.6 0 1 0 5.20 0a2.6 2.6 0 1 0 -5.20 0ZM188.10 244.00a2.6 2.6 0 1 0 5.20 0a2.6 2.6 0 1 0 -5.20 0ZM185.00 238.50a2.6 2.6 0 1 0 5.20 0a2.6 2.6 0 1 0 -5.20 0ZM166.60 224.70a2.6 2.6 0 1 0 5.20 0a2.6 2.6 0 1 0 -5.20 0ZM187.70 243.60a2.6 2.6 0 1 0 5.20 0a2.6 2.6 0 1 0 -5.20 0ZM159.20 233.50a2.6 2.6 0 1 0 5.20 0a2.6 2.6 0 1 0 -5.20 0ZM183.80 234.30a2.6 2.6 0 1 0 5.20 0a2.6 2.6 0 1 0 -5.20 0ZM204.20 233.50a2.6 2.6 0 1 0 5.20 0a2.6 2.6 0 1 0 -5.20 0ZM210.40 233.00a2.6 2.6 0 1 0 5.20 0a2.6 2.6 0 1 0 -5.20 0ZM213.00 233.50a2.6 2.6 0 1 0 5.20 0a2.6 2.6 0 1 0 -5.20 0ZM218.30 233.50a2.6 2.6 0 1 0 5.20 0a2.6 2.6 0 1 0 -5.20 0ZM222.70 231.70a2.6 2.6 0 1 0 5.20 0a2.6 2.6 0 1 0 -5.20 0ZM167.40 234.00a2.6 2.6 0 1 0 5.20 0a2.6 2.6 0 1 0 -5.20 0ZM175.40 235.00a2.6 2.6 0 1 0 5.20 0a2.6 2.6 0 1 0 -5.20 0ZM189.40 236.00a2.6 2.6 0 1 0 5.20 0a2.6 2.6 0 1 0 -5.20 0ZM195.40 234.00a2.6 2.6 0 1 0 5.20 0a2.6 2.6 0 1 0 -5.20 0Z" fill="#000"/>
<path d="M171.50 229.85L172.09 231.68L174.02 231.68L172.46 232.81L173.06 234.64L171.50 233.51L169.94 234.64L170.54 232.81L168.98 231.68L170.91 231.68ZM174.00 230.85L174.59 232.68L176.52 232.68L174.96 233.81L175.56 235.64L174.00 234.51L172.44 235.64L173.04 233.81L171.48 232.68L173.41 232.68ZM176.50 229.85L177.09 231.68L179.02 231.68L177.46 232.81L178.06 234.64L176.50 233.51L174.94 234.64L175.54 232.81L173.98 231.68L175.91 231.68ZM179.00 230.35L179.59 232.18L181.52 232.18L179.96 233.31L180.56 235.14L179.00 234.01L177.44 235.14L178.04 233.31L176.48 232.18L178.41 232.18ZM181.00 229.35L181.59 231.18L183.52 231.18L181.96 232.31L182.56 234.14L181.00 233.01L179.44 234.14L180.04 232.31L178.48 231.18L180.41 231.18ZM183.00 230.85L183.59 232.68L185.52 232.68L183.96 233.81L184.56 235.64L183.00 234.51L181.44 235.64L182.04 233.81L180.48 232.68L182.41 232.68ZM185.50 229.35L186.09 231.18L188.02 231.18L186.46 232.31L187.06 234.14L185.50 233.01L183.94 234.14L184.54 232.31L182.98 231.18L184.91 231.18ZM179.50 224.85L180.09 226.68L182.02 226.68L180.46 227.81L181.06 229.64L179.50 228.51L177.94 229.64L178.54 227.81L176.98 226.68L178.91 226.68ZM167.30 234.15L167.89 235.98L169.82 235.98L168.26 237.11L168.86 238.94L167.30 237.81L165.74 238.94L166.34 237.11L164.78 235.98L166.71 235.98ZM173.60 217.65L174.19 219.48L176.12 219.48L174.56 220.61L175.16 222.44L173.60 221.31L172.04 222.44L172.64 220.61L171.08 219.48L173.01 219.48ZM179.80 225.55L180.39 227.38L182.32 227.38L180.76 228.51L181.36 230.34L179.80 229.21L178.24 230.34L178.84 228.51L177.28 227.38L179.21 227.38ZM194.30 226.85L194.89 228.68L196.82 228.68L195.26 229.81L195.86 231.64L194.30 230.51L192.74 231.64L193.34 229.81L191.78 228.68L193.71 228.68ZM172.30 230.85L172.89 232.68L174.82 232.68L173.26 233.81L173.86 235.64L172.30 234.51L170.74 235.64L171.34 233.81L169.78 232.68L171.71 232.68ZM175.40 231.25L175.99 233.08L177.92 233.08L176.36 234.21L176.96 236.04L175.40 234.91L173.84 236.04L174.44 234.21L172.88 233.08L174.81 233.08ZM180.20 230.85L180.79 232.68L182.72 232.68L181.16 233.81L181.76 235.64L180.20 234.51L178.64 235.64L179.24 233.81L177.68 232.68L179.61 232.68ZM183.70 229.95L184.29 231.78L186.22 231.78L184.66 232.91L185.26 234.74L183.70 233.61L182.14 234.74L182.74 232.91L181.18 231.78L183.11 231.78ZM167.50 234.35L168.09 236.18L170.02 236.18L168.46 237.31L169.06 239.14L167.50 238.01L165.94 239.14L166.54 237.31L164.98 236.18L166.91 236.18ZM202.00 232.55L202.59 234.38L204.52 234.38L202.96 235.51L203.56 237.34L202.00 236.21L200.44 237.34L201.04 235.51L199.48 234.38L201.41 234.38ZM167.40 234.75L167.99 236.58L169.92 236.58L168.36 237.71L168.96 239.54L167.40 238.41L165.84 239.54L166.44 237.71L164.88 236.58L166.81 236.58Z" fill="#ff0000" stroke="#ff0000" stroke-width="0.6" stroke-linejoin="miter"/>
</g>
<path d="M223.80 172.50V293.20" stroke="#000" stroke-width="1.6" stroke-dasharray="5.7 2.5" stroke-dashoffset="7.0" fill="none"/>
<path d="M107.98 293.20v-3.6M107.98 172.50v3.6M188.78 293.20v-3.6M188.78 172.50v3.6M269.58 293.20v-3.6M269.58 172.50v3.6M51.50 293.20v-2.1M51.50 172.50v2.1M65.73 293.20v-2.1M65.73 172.50v2.1M75.82 293.20v-2.1M75.82 172.50v2.1M83.65 293.20v-2.1M83.65 172.50v2.1M90.05 293.20v-2.1M90.05 172.50v2.1M95.46 293.20v-2.1M95.46 172.50v2.1M100.15 293.20v-2.1M100.15 172.50v2.1M104.28 293.20v-2.1M104.28 172.50v2.1M132.30 293.20v-2.1M132.30 172.50v2.1M146.53 293.20v-2.1M146.53 172.50v2.1M156.62 293.20v-2.1M156.62 172.50v2.1M164.45 293.20v-2.1M164.45 172.50v2.1M170.85 293.20v-2.1M170.85 172.50v2.1M176.26 293.20v-2.1M176.26 172.50v2.1M180.95 293.20v-2.1M180.95 172.50v2.1M185.08 293.20v-2.1M185.08 172.50v2.1M213.10 293.20v-2.1M213.10 172.50v2.1M227.33 293.20v-2.1M227.33 172.50v2.1M237.42 293.20v-2.1M237.42 172.50v2.1M245.25 293.20v-2.1M245.25 172.50v2.1M251.65 293.20v-2.1M251.65 172.50v2.1M257.06 293.20v-2.1M257.06 172.50v2.1M261.75 293.20v-2.1M261.75 172.50v2.1M265.88 293.20v-2.1M265.88 172.50v2.1M293.90 293.20v-2.1M293.90 172.50v2.1M51.50 293.20h3.6M293.90 293.20h-3.6M51.50 232.85h3.6M293.90 232.85h-3.6M51.50 172.50h3.6M293.90 172.50h-3.6M51.50 275.03h2.1M293.90 275.03h-2.1M51.50 264.41h2.1M293.90 264.41h-2.1M51.50 256.87h2.1M293.90 256.87h-2.1M51.50 251.02h2.1M293.90 251.02h-2.1M51.50 246.24h2.1M293.90 246.24h-2.1M51.50 242.20h2.1M293.90 242.20h-2.1M51.50 238.70h2.1M293.90 238.70h-2.1M51.50 235.61h2.1M293.90 235.61h-2.1M51.50 214.68h2.1M293.90 214.68h-2.1M51.50 204.06h2.1M293.90 204.06h-2.1M51.50 196.52h2.1M293.90 196.52h-2.1M51.50 190.67h2.1M293.90 190.67h-2.1M51.50 185.89h2.1M293.90 185.89h-2.1M51.50 181.85h2.1M293.90 181.85h-2.1M51.50 178.35h2.1M293.90 178.35h-2.1M51.50 175.26h2.1M293.90 175.26h-2.1" stroke="#222" stroke-width="0.8" fill="none"/>
<rect x="51.50" y="172.50" width="242.40" height="120.70" stroke="#2a2a2a" stroke-width="1.5" fill="none"/>
<text x="96.70" y="311.50" font-size="16.0">10</text><text x="112.85" y="301.90" font-size="11.2">0</text>
<text x="177.50" y="311.50" font-size="16.0">10</text><text x="193.65" y="301.90" font-size="11.2">1</text>
<text x="258.30" y="311.50" font-size="16.0">10</text><text x="274.45" y="301.90" font-size="11.2">2</text>
<text x="24.75" y="179.40" font-size="16.0">10</text><text x="40.90" y="170.00" font-size="11.2">1</text>
<text x="24.75" y="239.75" font-size="16.0">10</text><text x="40.90" y="230.35" font-size="11.2">0</text>
<text x="18.43" y="300.10" font-size="16.0">10</text><text x="34.58" y="290.70" font-size="11.2">&#8722;1</text>
<text x="172.6" y="332.7" font-size="15.6" text-anchor="middle"><tspan font-style="italic">K</tspan><tspan font-size="10.9" dy="1.7">1, Gaia</tspan><tspan dy="-1.7"> [km s</tspan><tspan font-size="10.9" dy="-5.4">&#8722;1</tspan><tspan dy="5.4">]</tspan></text>
<text x="11.6" y="234.5" font-size="15.6" text-anchor="middle" transform="rotate(-90 11.6 234.5)"><tspan font-style="italic">K</tspan><tspan font-size="10.9" dy="1.7">1, Gaia</tspan><tspan dy="-1.7">/</tspan><tspan font-style="italic">K</tspan><tspan font-size="10.9" dy="1.7">1, SB9</tspan></text>
<clipPath id="c4"><rect x="378.7" y="172.5" width="242.20" height="120.80"/></clipPath>
<path d="M427.14 172.50V293.30M475.58 172.50V293.30M524.02 172.50V293.30M572.46 172.50V293.30M378.70 232.90H620.90" stroke="#b0b0b0" stroke-width="0.9" fill="none"/>
<g clip-path="url(#c4)">
<path d="M420.03 229.29L417.43 234.49L422.63 234.49ZM422.24 231.31L419.64 236.51L424.84 236.51ZM425.06 231.43L422.46 236.63L427.66 236.63ZM427.54 231.31L424.94 236.51L430.14 236.51ZM430.62 229.87L428.02 235.07L433.22 235.07ZM432.61 230.19L430.01 235.39L435.21 235.39ZM435.59 229.15L432.99 234.35L438.19 234.35ZM437.89 228.99L435.29 234.19L440.49 234.19ZM440.90 231.91L438.30 237.11L443.50 237.11ZM443.12 228.92L440.52 234.12L445.72 234.12ZM446.20 231.65L443.60 236.85L448.80 236.85ZM449.06 230.95L446.46 236.15L451.66 236.15ZM451.04 231.73L448.44 236.93L453.64 236.93ZM453.42 231.22L450.82 236.42L456.02 236.42ZM456.00 230.20L453.40 235.40L458.60 235.40ZM459.00 230.12L456.40 235.32L461.60 235.32ZM461.27 229.61L458.67 234.81L463.87 234.81ZM464.52 230.42L461.92 235.62L467.12 235.62ZM466.88 229.54L464.28 234.74L469.48 234.74ZM469.61 229.96L467.01 235.16L472.21 235.16ZM472.09 231.98L469.49 237.18L474.69 237.18ZM475.09 228.96L472.49 234.16L477.69 234.16ZM477.50 231.80L474.90 237.00L480.10 237.00ZM479.62 230.14L477.02 235.34L482.22 235.34ZM482.48 232.02L479.88 237.22L485.08 237.22ZM484.90 231.88L482.30 237.08L487.50 237.08ZM487.86 229.33L485.26 234.53L490.46 234.53ZM490.61 228.85L488.01 234.05L493.21 234.05ZM492.45 231.13L489.85 236.33L495.05 236.33ZM494.96 230.13L492.36 235.33L497.56 235.33ZM497.63 230.42L495.03 235.62L500.23 235.62ZM500.94 231.97L498.34 237.17L503.54 237.17ZM502.74 229.01L500.14 234.21L505.34 234.21ZM506.14 228.95L503.54 234.15L508.74 234.15ZM508.17 229.21L505.57 234.41L510.77 234.41ZM510.59 228.90L507.99 234.10L513.19 234.10ZM513.74 231.41L511.14 236.61L516.34 236.61ZM516.39 231.76L513.79 236.96L518.99 236.96ZM518.96 230.16L516.36 235.36L521.56 235.36ZM521.53 232.19L518.93 237.39L524.13 237.39ZM524.14 229.65L521.54 234.85L526.74 234.85ZM526.16 232.07L523.56 237.27L528.76 237.27ZM529.29 230.02L526.69 235.22L531.89 235.22ZM531.91 230.76L529.31 235.96L534.51 235.96ZM534.42 229.01L531.82 234.21L537.02 234.21ZM536.85 230.24L534.25 235.44L539.45 235.44ZM539.30 231.88L536.70 237.08L541.90 237.08ZM542.12 231.12L539.52 236.32L544.72 236.32ZM545.01 231.40L542.41 236.60L547.61 236.60ZM547.62 231.43L545.02 236.63L550.22 236.63ZM549.75 232.22L547.15 237.42L552.35 237.42ZM552.25 232.02L549.65 237.22L554.85 237.22ZM555.55 231.78L552.95 236.98L558.15 236.98ZM557.35 229.12L554.75 234.32L559.95 234.32ZM385.30 227.30L382.70 232.50L387.90 232.50ZM392.50 224.70L389.90 229.90L395.10 229.90ZM394.50 230.60L391.90 235.80L397.10 235.80ZM395.20 233.90L392.60 239.10L397.80 239.10ZM403.10 229.90L400.50 235.10L405.70 235.10ZM404.40 230.60L401.80 235.80L407.00 235.80ZM412.00 228.20L409.40 233.40L414.60 233.40ZM418.90 231.90L416.30 237.10L421.50 237.10ZM422.90 229.90L420.30 235.10L425.50 235.10ZM425.50 233.90L422.90 239.10L428.10 239.10ZM422.60 228.90L420.00 234.10L425.20 234.10ZM426.00 229.40L423.40 234.60L428.60 234.60ZM430.60 228.20L428.00 233.40L433.20 233.40ZM433.90 228.20L431.30 233.40L436.50 233.40ZM441.80 228.20L439.20 233.40L444.40 233.40ZM425.30 234.20L422.70 239.40L427.90 239.40ZM435.80 236.80L433.20 242.00L438.40 242.00ZM439.10 239.40L436.50 244.60L441.70 244.60ZM435.80 247.00L433.20 252.20L438.40 252.20ZM448.40 223.00L445.80 228.20L451.00 228.20ZM447.70 233.50L445.10 238.70L450.30 238.70ZM451.70 238.80L449.10 244.00L454.30 244.00ZM451.70 243.40L449.10 248.60L454.30 248.60ZM453.60 246.70L451.00 251.90L456.20 251.90ZM454.30 250.70L451.70 255.90L456.90 255.90ZM457.60 244.10L455.00 249.30L460.20 249.30ZM455.00 213.10L452.40 218.30L457.60 218.30ZM456.30 218.30L453.70 223.50L458.90 223.50ZM451.00 230.90L448.40 236.10L453.60 236.10ZM455.30 212.20L452.70 217.40L457.90 217.40ZM473.70 219.40L471.10 224.60L476.30 224.60ZM483.60 222.70L481.00 227.90L486.20 227.90ZM488.30 215.50L485.70 220.70L490.90 220.70ZM461.20 223.40L458.60 228.60L463.80 228.60ZM451.30 227.40L448.70 232.60L453.90 232.60ZM484.30 229.40L481.70 234.60L486.90 234.60ZM487.60 215.60L485.00 220.80L490.20 220.80ZM497.50 218.90L494.90 224.10L500.10 224.10ZM500.80 218.90L498.20 224.10L503.40 224.10ZM510.10 218.20L507.50 223.40L512.70 223.40ZM518.00 220.90L515.40 226.10L520.60 226.10ZM514.00 224.80L511.40 230.00L516.60 230.00ZM493.60 240.70L491.00 245.90L496.20 245.90ZM510.70 242.00L508.10 247.20L513.30 247.20ZM513.40 242.00L510.80 247.20L516.00 247.20ZM505.40 245.30L502.80 250.50L508.00 250.50ZM520.00 238.00L517.40 243.20L522.60 243.20ZM486.30 232.10L483.70 237.30L488.90 237.30ZM526.50 221.40L523.90 226.60L529.10 226.60ZM545.80 223.00L543.20 228.20L548.40 228.20ZM540.20 227.10L537.60 232.30L542.80 232.30ZM542.60 229.50L540.00 234.70L545.20 234.70ZM552.30 227.90L549.70 233.10L554.90 233.10ZM553.10 231.10L550.50 236.30L555.70 236.30ZM559.50 231.10L556.90 236.30L562.10 236.30ZM521.60 239.20L519.00 244.40L524.20 244.40ZM531.30 231.90L528.70 237.10L533.90 237.10ZM555.00 232.60L552.40 237.80L557.60 237.80ZM560.10 230.80L557.50 236.00L562.70 236.00ZM563.80 231.10L561.20 236.30L566.40 236.30ZM565.30 231.40L562.70 236.60L567.90 236.60ZM570.40 230.80L567.80 236.00L573.00 236.00ZM572.30 224.10L569.70 229.30L574.90 229.30ZM580.20 230.40L577.60 235.60L582.80 235.60ZM454.80 251.10L452.20 256.30L457.40 256.30ZM460.20 260.70L457.60 265.90L462.80 265.90ZM476.10 253.00L473.50 258.20L478.70 258.20ZM476.10 273.20L473.50 278.40L478.70 278.40ZM467.20 277.80L464.60 283.00L469.80 283.00ZM464.10 287.90L461.50 293.10L466.70 293.10ZM465.70 287.90L463.10 293.10L468.30 293.10ZM482.80 244.90L480.20 250.10L485.40 250.10ZM451.70 242.10L449.10 247.30L454.30 247.30ZM457.10 244.40L454.50 249.60L459.70 249.60ZM452.40 239.00L449.80 244.20L455.00 244.20ZM505.50 246.40L502.90 251.60L508.10 251.60ZM503.90 257.20L501.30 262.40L506.50 262.40ZM510.80 260.90L508.20 266.10L513.40 266.10ZM533.70 251.90L531.10 257.10L536.30 257.10ZM501.50 288.60L498.90 293.80L504.10 293.80ZM511.10 242.70L508.50 247.90L513.70 247.90ZM514.40 242.70L511.80 247.90L517.00 247.90ZM519.20 239.40L516.60 244.60L521.80 244.60ZM522.40 239.40L519.80 244.60L525.00 244.60ZM456.60 218.00L454.00 223.20L459.20 223.20ZM473.70 218.90L471.10 224.10L476.30 224.10ZM483.40 221.10L480.80 226.30L486.00 226.30ZM486.90 216.30L484.30 221.50L489.50 221.50ZM461.40 223.30L458.80 228.50L464.00 228.50ZM451.30 227.70L448.70 232.90L453.90 232.90ZM467.60 228.60L465.00 233.80L470.20 233.80ZM471.10 229.50L468.50 234.70L473.70 234.70ZM476.40 224.20L473.80 229.40L479.00 229.40ZM450.90 236.50L448.30 241.70L453.50 241.70ZM457.00 236.50L454.40 241.70L459.60 241.70ZM466.30 237.40L463.70 242.60L468.90 242.60ZM482.50 243.50L479.90 248.70L485.10 248.70ZM454.40 241.80L451.80 247.00L457.00 247.00ZM451.80 240.00L449.20 245.20L454.40 245.20ZM484.70 233.00L482.10 238.20L487.30 238.20ZM507.30 176.40L504.70 181.60L509.90 181.60Z" fill="#0000ff" stroke="#0000ff" stroke-width="0.2" stroke-linejoin="miter"/>
<path d="M386.00 248.40a2.6 2.6 0 1 0 5.20 0a2.6 2.6 0 1 0 -5.20 0ZM414.30 258.50a2.6 2.6 0 1 0 5.20 0a2.6 2.6 0 1 0 -5.20 0ZM424.20 225.90a2.6 2.6 0 1 0 5.20 0a2.6 2.6 0 1 0 -5.20 0ZM424.70 226.20a2.6 2.6 0 1 0 5.20 0a2.6 2.6 0 1 0 -5.20 0ZM440.50 224.00a2.6 2.6 0 1 0 5.20 0a2.6 2.6 0 1 0 -5.20 0ZM435.60 232.80a2.6 2.6 0 1 0 5.20 0a2.6 2.6 0 1 0 -5.20 0ZM445.10 229.50a2.6 2.6 0 1 0 5.20 0a2.6 2.6 0 1 0 -5.20 0ZM452.40 228.20a2.6 2.6 0 1 0 5.20 0a2.6 2.6 0 1 0 -5.20 0ZM454.30 233.50a2.6 2.6 0 1 0 5.20 0a2.6 2.6 0 1 0 -5.20 0ZM474.80 204.00a2.6 2.6 0 1 0 5.20 0a2.6 2.6 0 1 0 -5.20 0ZM464.60 218.50a2.6 2.6 0 1 0 5.20 0a2.6 2.6 0 1 0 -5.20 0ZM456.60 221.40a2.6 2.6 0 1 0 5.20 0a2.6 2.6 0 1 0 -5.20 0ZM466.50 226.40a2.6 2.6 0 1 0 5.20 0a2.6 2.6 0 1 0 -5.20 0ZM452.00 228.00a2.6 2.6 0 1 0 5.20 0a2.6 2.6 0 1 0 -5.20 0ZM455.30 233.30a2.6 2.6 0 1 0 5.20 0a2.6 2.6 0 1 0 -5.20 0ZM460.60 232.60a2.6 2.6 0 1 0 5.20 0a2.6 2.6 0 1 0 -5.20 0ZM475.10 233.30a2.6 2.6 0 1 0 5.20 0a2.6 2.6 0 1 0 -5.20 0ZM478.40 232.60a2.6 2.6 0 1 0 5.20 0a2.6 2.6 0 1 0 -5.20 0ZM468.50 237.20a2.6 2.6 0 1 0 5.20 0a2.6 2.6 0 1 0 -5.20 0ZM457.30 235.90a2.6 2.6 0 1 0 5.20 0a2.6 2.6 0 1 0 -5.20 0ZM493.60 225.40a2.6 2.6 0 1 0 5.20 0a2.6 2.6 0 1 0 -5.20 0ZM485.00 231.40a2.6 2.6 0 1 0 5.20 0a2.6 2.6 0 1 0 -5.20 0ZM495.60 231.40a2.6 2.6 0 1 0 5.20 0a2.6 2.6 0 1 0 -5.20 0ZM507.50 230.70a2.6 2.6 0 1 0 5.20 0a2.6 2.6 0 1 0 -5.20 0ZM506.80 238.60a2.6 2.6 0 1 0 5.20 0a2.6 2.6 0 1 0 -5.20 0ZM518.00 236.70a2.6 2.6 0 1 0 5.20 0a2.6 2.6 0 1 0 -5.20 0ZM485.00 241.30a2.6 2.6 0 1 0 5.20 0a2.6 2.6 0 1 0 -5.20 0ZM490.30 247.20a2.6 2.6 0 1 0 5.20 0a2.6 2.6 0 1 0 -5.20 0ZM499.60 242.00a2.6 2.6 0 1 0 5.20 0a2.6 2.6 0 1 0 -5.20 0ZM510.80 242.60a2.6 2.6 0 1 0 5.20 0a2.6 2.6 0 1 0 -5.20 0ZM491.40 234.00a2.6 2.6 0 1 0 5.20 0a2.6 2.6 0 1 0 -5.20 0ZM500.40 236.00a2.6 2.6 0 1 0 5.20 0a2.6 2.6 0 1 0 -5.20 0ZM512.40 234.00a2.6 2.6 0 1 0 5.20 0a2.6 2.6 0 1 0 -5.20 0ZM519.80 229.70a2.6 2.6 0 1 0 5.20 0a2.6 2.6 0 1 0 -5.20 0ZM524.70 233.70a2.6 2.6 0 1 0 5.20 0a2.6 2.6 0 1 0 -5.20 0ZM530.30 231.30a2.6 2.6 0 1 0 5.20 0a2.6 2.6 0 1 0 -5.20 0ZM534.30 235.30a2.6 2.6 0 1 0 5.20 0a2.6 2.6 0 1 0 -5.20 0ZM535.10 236.90a2.6 2.6 0 1 0 5.20 0a2.6 2.6 0 1 0 -5.20 0ZM544.00 233.70a2.6 2.6 0 1 0 5.20 0a2.6 2.6 0 1 0 -5.20 0ZM518.20 235.30a2.6 2.6 0 1 0 5.20 0a2.6 2.6 0 1 0 -5.20 0ZM438.20 261.00a2.6 2.6 0 1 0 5.20 0a2.6 2.6 0 1 0 -5.20 0ZM433.90 261.70a2.6 2.6 0 1 0 5.20 0a2.6 2.6 0 1 0 -5.20 0ZM485.30 255.60a2.6 2.6 0 1 0 5.20 0a2.6 2.6 0 1 0 -5.20 0ZM490.30 247.80a2.6 2.6 0 1 0 5.20 0a2.6 2.6 0 1 0 -5.20 0ZM482.50 242.30a2.6 2.6 0 1 0 5.20 0a2.6 2.6 0 1 0 -5.20 0ZM487.20 243.10a2.6 2.6 0 1 0 5.20 0a2.6 2.6 0 1 0 -5.20 0ZM510.90 250.60a2.6 2.6 0 1 0 5.20 0a2.6 2.6 0 1 0 -5.20 0ZM506.10 267.80a2.6 2.6 0 1 0 5.20 0a2.6 2.6 0 1 0 -5.20 0ZM508.50 266.70a2.6 2.6 0 1 0 5.20 0a2.6 2.6 0 1 0 -5.20 0ZM497.20 243.60a2.6 2.6 0 1 0 5.20 0a2.6 2.6 0 1 0 -5.20 0ZM456.60 221.50a2.6 2.6 0 1 0 5.20 0a2.6 2.6 0 1 0 -5.20 0ZM464.10 218.90a2.6 2.6 0 1 0 5.20 0a2.6 2.6 0 1 0 -5.20 0ZM466.30 226.40a2.6 2.6 0 1 0 5.20 0a2.6 2.6 0 1 0 -5.20 0ZM451.40 227.70a2.6 2.6 0 1 0 5.20 0a2.6 2.6 0 1 0 -5.20 0ZM457.10 235.60a2.6 2.6 0 1 0 5.20 0a2.6 2.6 0 1 0 -5.20 0ZM461.50 232.90a2.6 2.6 0 1 0 5.20 0a2.6 2.6 0 1 0 -5.20 0ZM468.10 236.90a2.6 2.6 0 1 0 5.20 0a2.6 2.6 0 1 0 -5.20 0ZM473.80 233.80a2.6 2.6 0 1 0 5.20 0a2.6 2.6 0 1 0 -5.20 0ZM476.40 232.10a2.6 2.6 0 1 0 5.20 0a2.6 2.6 0 1 0 -5.20 0ZM476.40 239.10a2.6 2.6 0 1 0 5.20 0a2.6 2.6 0 1 0 -5.20 0ZM478.20 236.50a2.6 2.6 0 1 0 5.20 0a2.6 2.6 0 1 0 -5.20 0ZM484.30 230.70a2.6 2.6 0 1 0 5.20 0a2.6 2.6 0 1 0 -5.20 0ZM483.40 241.70a2.6 2.6 0 1 0 5.20 0a2.6 2.6 0 1 0 -5.20 0ZM486.10 244.40a2.6 2.6 0 1 0 5.20 0a2.6 2.6 0 1 0 -5.20 0ZM471.40 236.00a2.6 2.6 0 1 0 5.20 0a2.6 2.6 0 1 0 -5.20 0ZM480.40 238.00a2.6 2.6 0 1 0 5.20 0a2.6 2.6 0 1 0 -5.20 0ZM487.40 236.00a2.6 2.6 0 1 0 5.20 0a2.6 2.6 0 1 0 -5.20 0ZM492.40 238.00a2.6 2.6 0 1 0 5.20 0a2.6 2.6 0 1 0 -5.20 0ZM497.40 233.00a2.6 2.6 0 1 0 5.20 0a2.6 2.6 0 1 0 -5.20 0ZM502.40 238.00a2.6 2.6 0 1 0 5.20 0a2.6 2.6 0 1 0 -5.20 0ZM505.40 234.00a2.6 2.6 0 1 0 5.20 0a2.6 2.6 0 1 0 -5.20 0ZM509.40 237.00a2.6 2.6 0 1 0 5.20 0a2.6 2.6 0 1 0 -5.20 0ZM514.40 238.00a2.6 2.6 0 1 0 5.20 0a2.6 2.6 0 1 0 -5.20 0ZM477.40 235.00a2.6 2.6 0 1 0 5.20 0a2.6 2.6 0 1 0 -5.20 0ZM473.40 238.00a2.6 2.6 0 1 0 5.20 0a2.6 2.6 0 1 0 -5.20 0ZM465.40 233.00a2.6 2.6 0 1 0 5.20 0a2.6 2.6 0 1 0 -5.20 0ZM459.40 236.00a2.6 2.6 0 1 0 5.20 0a2.6 2.6 0 1 0 -5.20 0ZM455.40 237.00a2.6 2.6 0 1 0 5.20 0a2.6 2.6 0 1 0 -5.20 0ZM497.40 229.00a2.6 2.6 0 1 0 5.20 0a2.6 2.6 0 1 0 -5.20 0ZM490.40 229.00a2.6 2.6 0 1 0 5.20 0a2.6 2.6 0 1 0 -5.20 0ZM486.40 239.00a2.6 2.6 0 1 0 5.20 0a2.6 2.6 0 1 0 -5.20 0ZM495.40 240.00a2.6 2.6 0 1 0 5.20 0a2.6 2.6 0 1 0 -5.20 0ZM504.40 241.00a2.6 2.6 0 1 0 5.20 0a2.6 2.6 0 1 0 -5.20 0Z" fill="#000"/>
<path d="M482.30 199.05L482.89 200.88L484.82 200.88L483.26 202.01L483.86 203.84L482.30 202.71L480.74 203.84L481.34 202.01L479.78 200.88L481.71 200.88ZM473.10 226.35L473.69 228.18L475.62 228.18L474.06 229.31L474.66 231.14L473.10 230.01L471.54 231.14L472.14 229.31L470.58 228.18L472.51 228.18ZM520.40 209.65L520.99 211.48L522.92 211.48L521.36 212.61L521.96 214.44L520.40 213.31L518.84 214.44L519.44 212.61L517.88 211.48L519.81 211.48ZM492.30 231.15L492.89 232.98L494.82 232.98L493.26 234.11L493.86 235.94L492.30 234.81L490.74 235.94L491.34 234.11L489.78 232.98L491.71 232.98ZM504.50 232.95L505.09 234.78L507.02 234.78L505.46 235.91L506.06 237.74L504.50 236.61L502.94 237.74L503.54 235.91L501.98 234.78L503.91 234.78ZM505.40 227.45L505.99 229.28L507.92 229.28L506.36 230.41L506.96 232.24L505.40 231.11L503.84 232.24L504.44 230.41L502.88 229.28L504.81 229.28ZM499.50 237.75L500.09 239.58L502.02 239.58L500.46 240.71L501.06 242.54L499.50 241.41L497.94 242.54L498.54 240.71L496.98 239.58L498.91 239.58ZM517.30 229.35L517.89 231.18L519.82 231.18L518.26 232.31L518.86 234.14L517.30 233.01L515.74 234.14L516.34 232.31L514.78 231.18L516.71 231.18ZM516.40 234.25L516.99 236.08L518.92 236.08L517.36 237.21L517.96 239.04L516.40 237.91L514.84 239.04L515.44 237.21L513.88 236.08L515.81 236.08ZM520.80 209.25L521.39 211.08L523.32 211.08L521.76 212.21L522.36 214.04L520.80 212.91L519.24 214.04L519.84 212.21L518.28 211.08L520.21 211.08ZM540.20 214.95L540.79 216.78L542.72 216.78L541.16 217.91L541.76 219.74L540.20 218.61L538.64 219.74L539.24 217.91L537.68 216.78L539.61 216.78ZM545.00 237.85L545.59 239.68L547.52 239.68L545.96 240.81L546.56 242.64L545.00 241.51L543.44 242.64L544.04 240.81L542.48 239.68L544.41 239.68ZM474.20 241.05L474.79 242.88L476.72 242.88L475.16 244.01L475.76 245.84L474.20 244.71L472.64 245.84L473.24 244.01L471.68 242.88L473.61 242.88ZM472.90 226.35L473.49 228.18L475.42 228.18L473.86 229.31L474.46 231.14L472.90 230.01L471.34 231.14L471.94 229.31L470.38 228.18L472.31 228.18Z" fill="#ff0000" stroke="#ff0000" stroke-width="0.6" stroke-linejoin="miter"/>
</g>
<path d="M584.00 172.50V293.30" stroke="#000" stroke-width="1.6" stroke-dasharray="5.7 2.5" stroke-dashoffset="7.0" fill="none"/>
<path d="M378.70 293.30v-3.6M378.70 172.50v3.6M427.14 293.30v-3.6M427.14 172.50v3.6M475.58 293.30v-3.6M475.58 172.50v3.6M524.02 293.30v-3.6M524.02 172.50v3.6M572.46 293.30v-3.6M572.46 172.50v3.6M620.90 293.30v-3.6M620.90 172.50v3.6M378.70 293.30h3.6M620.90 293.30h-3.6M378.70 232.90h3.6M620.90 232.90h-3.6M378.70 172.50h3.6M620.90 172.50h-3.6M378.70 275.12h2.1M620.90 275.12h-2.1M378.70 264.48h2.1M620.90 264.48h-2.1M378.70 256.94h2.1M620.90 256.94h-2.1M378.70 251.08h2.1M620.90 251.08h-2.1M378.70 246.30h2.1M620.90 246.30h-2.1M378.70 242.26h2.1M620.90 242.26h-2.1M378.70 238.75h2.1M620.90 238.75h-2.1M378.70 235.66h2.1M620.90 235.66h-2.1M378.70 214.72h2.1M620.90 214.72h-2.1M378.70 204.08h2.1M620.90 204.08h-2.1M378.70 196.54h2.1M620.90 196.54h-2.1M378.70 190.68h2.1M620.90 190.68h-2.1M378.70 185.90h2.1M620.90 185.90h-2.1M378.70 181.86h2.1M620.90 181.86h-2.1M378.70 178.35h2.1M620.90 178.35h-2.1M378.70 175.26h2.1M620.90 175.26h-2.1" stroke="#222" stroke-width="0.8" fill="none"/>
<rect x="378.70" y="172.50" width="242.20" height="120.80" stroke="#2a2a2a" stroke-width="1.5" fill="none"/>
<text x="364.27" y="311.60" font-size="16.0">10</text><text x="380.42" y="302.00" font-size="11.2">&#8722;4</text>
<text x="412.71" y="311.60" font-size="16.0">10</text><text x="428.86" y="302.00" font-size="11.2">&#8722;3</text>
<text x="461.15" y="311.60" font-size="16.0">10</text><text x="477.30" y="302.00" font-size="11.2">&#8722;2</text>
<text x="509.59" y="311.60" font-size="16.0">10</text><text x="525.74" y="302.00" font-size="11.2">&#8722;1</text>
<text x="561.19" y="311.60" font-size="16.0">10</text><text x="577.34" y="302.00" font-size="11.2">0</text>
<text x="609.62" y="311.60" font-size="16.0">10</text><text x="625.77" y="302.00" font-size="11.2">1</text>
<text x="351.95" y="179.40" font-size="16.0">10</text><text x="368.10" y="170.00" font-size="11.2">1</text>
<text x="351.95" y="239.80" font-size="16.0">10</text><text x="368.10" y="230.40" font-size="11.2">0</text>
<text x="345.63" y="300.20" font-size="16.0">10</text><text x="361.78" y="290.80" font-size="11.2">&#8722;1</text>
<text x="497.6" y="333.5" font-size="16.0" text-anchor="middle"><tspan font-style="italic">f</tspan><tspan font-size="11.2" dy="1.7">spectro, Gaia</tspan><tspan dy="-1.7"> [</tspan><tspan font-style="italic">M</tspan><tspan font-size="10.9" dy="1.7">&#8857;</tspan><tspan dy="-1.7">]</tspan></text>
<text x="336.8" y="234.6" font-size="15.6" text-anchor="middle" transform="rotate(-90 336.8 234.6)"><tspan font-style="italic">f</tspan><tspan font-size="10.9" dy="1.7">spectro, Gaia</tspan><tspan dy="-1.7">/</tspan><tspan font-style="italic">f</tspan><tspan font-size="10.9" dy="1.7">spectro, SB9</tspan></text>
<path d="M449.40 321.50L451.40 319.50L453.40 321.50M324.20 294.80L322.20 292.80L324.20 290.80M324.20 229.20L322.20 227.20L324.20 225.20" stroke="#000" stroke-width="0.9" fill="none"/>
</svg></body></html>
